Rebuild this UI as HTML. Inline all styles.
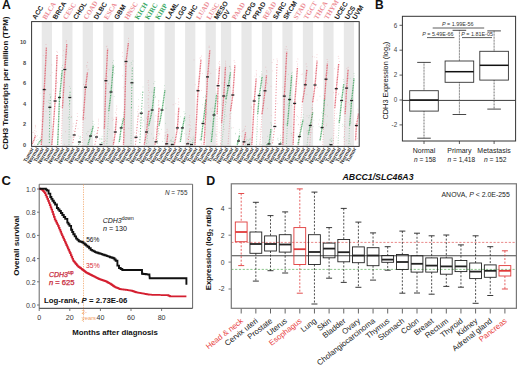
<!DOCTYPE html>
<html><head><meta charset="utf-8"><style>html,body{margin:0;padding:0;background:#fff;width:520px;height:366px;overflow:hidden}svg{display:block}</style></head>
<body><svg width="520" height="366" viewBox="0 0 520 366" font-family='"Liberation Sans", sans-serif'>
<g><rect x="31.6" y="21.6" width="327.59999999999997" height="124.80000000000001" fill="#fff"/><rect x="41.74" y="21.6" width="10.24" height="124.80000000000001" fill="#e8e8e8"/><rect x="62.22" y="21.6" width="10.24" height="124.80000000000001" fill="#e8e8e8"/><rect x="82.70" y="21.6" width="10.24" height="124.80000000000001" fill="#e8e8e8"/><rect x="103.18" y="21.6" width="10.24" height="124.80000000000001" fill="#e8e8e8"/><rect x="123.66" y="21.6" width="10.24" height="124.80000000000001" fill="#e8e8e8"/><rect x="144.14" y="21.6" width="10.24" height="124.80000000000001" fill="#e8e8e8"/><rect x="164.62" y="21.6" width="10.24" height="124.80000000000001" fill="#e8e8e8"/><rect x="185.10" y="21.6" width="10.24" height="124.80000000000001" fill="#e8e8e8"/><rect x="205.58" y="21.6" width="10.24" height="124.80000000000001" fill="#e8e8e8"/><rect x="220.94" y="21.6" width="10.24" height="124.80000000000001" fill="#e8e8e8"/><rect x="241.42" y="21.6" width="10.24" height="124.80000000000001" fill="#e8e8e8"/><rect x="261.90" y="21.6" width="10.24" height="124.80000000000001" fill="#e8e8e8"/><rect x="282.38" y="21.6" width="10.24" height="124.80000000000001" fill="#e8e8e8"/><rect x="302.86" y="21.6" width="10.24" height="124.80000000000001" fill="#e8e8e8"/><rect x="323.34" y="21.6" width="10.24" height="124.80000000000001" fill="#e8e8e8"/><rect x="343.82" y="21.6" width="10.24" height="124.80000000000001" fill="#e8e8e8"/><polyline points="32.00,144.00 32.14,143.78 32.29,143.53 32.43,143.27 32.57,142.99 32.71,142.71 32.86,142.42 33.00,142.13 33.14,141.84 33.29,141.54 33.43,141.24 33.57,140.93 33.71,140.62 33.86,140.31 34.00,140.00 34.11,139.73 34.21,139.41 34.32,139.08 34.43,138.74 34.54,138.39 34.64,138.03 34.75,137.67 34.86,137.30 34.96,136.92 35.07,136.55 35.18,136.17 35.29,135.78 35.39,135.39 35.50,135.00" fill="none" stroke="#de4b5b" stroke-width="1.35" stroke-opacity="0.8" stroke-dasharray="1.1,0.55" stroke-linejoin="round"/><circle cx="34.9" cy="133.1" r="0.45" fill="#de4b5b" fill-opacity="0.45"/><circle cx="34.8" cy="130.4" r="0.45" fill="#de4b5b" fill-opacity="0.45"/><circle cx="35.2" cy="127.9" r="0.45" fill="#de4b5b" fill-opacity="0.45"/><circle cx="35.4" cy="126.6" r="0.45" fill="#de4b5b" fill-opacity="0.45"/><circle cx="35.3" cy="125.3" r="0.45" fill="#de4b5b" fill-opacity="0.45"/><circle cx="33.3" cy="132.3" r="0.45" fill="#de4b5b" fill-opacity="0.35"/><circle cx="31.3" cy="142.6" r="0.45" fill="#de4b5b" fill-opacity="0.35"/><circle cx="34.6" cy="134.1" r="0.45" fill="#de4b5b" fill-opacity="0.35"/><circle cx="34.3" cy="144.3" r="0.45" fill="#de4b5b" fill-opacity="0.35"/><circle cx="36.8" cy="136.6" r="0.45" fill="#de4b5b" fill-opacity="0.35"/><circle cx="36.1" cy="131.7" r="0.45" fill="#de4b5b" fill-opacity="0.35"/><circle cx="31.4" cy="135.1" r="0.45" fill="#de4b5b" fill-opacity="0.35"/><circle cx="32.5" cy="132.6" r="0.45" fill="#de4b5b" fill-opacity="0.35"/><polyline points="37.40,144.70 37.55,144.55 37.70,144.38 37.85,144.20 38.00,144.02 38.15,143.83 38.30,143.64 38.45,143.44 38.60,143.24 38.75,143.04 38.90,142.84 39.05,142.63 39.20,142.42 39.35,142.21 39.50,142.00 39.64,141.84 39.79,141.65 39.93,141.45 40.07,141.24 40.21,141.03 40.36,140.82 40.50,140.60 40.64,140.38 40.79,140.15 40.93,139.93 41.07,139.70 41.21,139.47 41.36,139.23 41.50,139.00" fill="none" stroke="#2f9b50" stroke-width="1.35" stroke-opacity="0.8" stroke-dasharray="1.1,0.55" stroke-linejoin="round"/><circle cx="40.9" cy="135.9" r="0.45" fill="#2f9b50" fill-opacity="0.45"/><circle cx="41.5" cy="133.4" r="0.45" fill="#2f9b50" fill-opacity="0.45"/><circle cx="36.3" cy="140.5" r="0.45" fill="#2f9b50" fill-opacity="0.35"/><circle cx="37.4" cy="135.6" r="0.45" fill="#2f9b50" fill-opacity="0.35"/><circle cx="38.9" cy="141.8" r="0.45" fill="#2f9b50" fill-opacity="0.35"/><circle cx="40.1" cy="138.1" r="0.45" fill="#2f9b50" fill-opacity="0.35"/><circle cx="38.0" cy="139.5" r="0.45" fill="#2f9b50" fill-opacity="0.35"/><circle cx="40.9" cy="142.9" r="0.45" fill="#2f9b50" fill-opacity="0.35"/><circle cx="40.0" cy="137.4" r="0.45" fill="#2f9b50" fill-opacity="0.35"/><circle cx="42.1" cy="140.3" r="0.45" fill="#2f9b50" fill-opacity="0.35"/><polyline points="41.30,145.00 41.51,141.96 41.71,138.49 41.92,134.82 42.13,131.04 42.34,127.15 42.54,123.19 42.75,119.15 42.96,115.07 43.16,110.93 43.37,106.74 43.58,102.51 43.79,98.24 43.99,93.94 44.20,89.60 44.36,87.28 44.51,84.64 44.67,81.85 44.83,78.96 44.99,76.00 45.14,72.98 45.30,69.91 45.46,66.80 45.61,63.64 45.77,60.45 45.93,57.23 46.09,53.98 46.24,50.70 46.40,47.40" fill="none" stroke="#de4b5b" stroke-width="1.35" stroke-opacity="0.8" stroke-dasharray="1.1,0.55" stroke-linejoin="round"/><circle cx="46.0" cy="44.5" r="0.45" fill="#de4b5b" fill-opacity="0.45"/><circle cx="43.2" cy="55.4" r="0.45" fill="#de4b5b" fill-opacity="0.35"/><circle cx="41.0" cy="120.3" r="0.45" fill="#de4b5b" fill-opacity="0.35"/><circle cx="40.1" cy="93.1" r="0.45" fill="#de4b5b" fill-opacity="0.35"/><circle cx="46.0" cy="111.3" r="0.45" fill="#de4b5b" fill-opacity="0.35"/><circle cx="46.9" cy="101.6" r="0.45" fill="#de4b5b" fill-opacity="0.35"/><circle cx="45.4" cy="75.3" r="0.45" fill="#de4b5b" fill-opacity="0.35"/><circle cx="44.5" cy="103.8" r="0.45" fill="#de4b5b" fill-opacity="0.35"/><circle cx="46.6" cy="89.8" r="0.45" fill="#de4b5b" fill-opacity="0.35"/><polyline points="49.30,143.00 49.34,141.04 49.37,138.80 49.41,136.44 49.44,134.00 49.48,131.50 49.51,128.94 49.55,126.35 49.59,123.71 49.62,121.04 49.66,118.34 49.69,115.62 49.73,112.87 49.76,110.09 49.80,107.30 49.84,106.76 49.89,106.15 49.93,105.50 49.97,104.83 50.01,104.14 50.06,103.44 50.10,102.73 50.14,102.00 50.19,101.27 50.23,100.53 50.27,99.78 50.31,99.03 50.36,98.27 50.40,97.50" fill="none" stroke="#2f9b50" stroke-width="1" stroke-opacity="0.75" stroke-dasharray="1,1.8"/><circle cx="50.2" cy="94.1" r="0.45" fill="#2f9b50" fill-opacity="0.45"/><circle cx="50.7" cy="96.6" r="0.45" fill="#2f9b50" fill-opacity="0.35"/><circle cx="51.9" cy="126.8" r="0.45" fill="#2f9b50" fill-opacity="0.35"/><circle cx="49.0" cy="135.8" r="0.45" fill="#2f9b50" fill-opacity="0.35"/><circle cx="50.5" cy="113.4" r="0.45" fill="#2f9b50" fill-opacity="0.35"/><circle cx="49.7" cy="94.7" r="0.45" fill="#2f9b50" fill-opacity="0.35"/><circle cx="48.3" cy="102.2" r="0.45" fill="#2f9b50" fill-opacity="0.35"/><circle cx="50.9" cy="96.5" r="0.45" fill="#2f9b50" fill-opacity="0.35"/><circle cx="48.8" cy="100.2" r="0.45" fill="#2f9b50" fill-opacity="0.35"/><polyline points="51.80,145.00 52.04,142.59 52.27,139.83 52.51,136.92 52.74,133.91 52.98,130.82 53.21,127.67 53.45,124.47 53.69,121.23 53.92,117.94 54.16,114.61 54.39,111.25 54.63,107.86 54.86,104.44 55.10,101.00 55.24,98.46 55.39,95.56 55.53,92.50 55.67,89.33 55.81,86.08 55.96,82.77 56.10,79.40 56.24,75.98 56.39,72.52 56.53,69.02 56.67,65.49 56.81,61.92 56.96,58.32 57.10,54.70" fill="none" stroke="#de4b5b" stroke-width="1.35" stroke-opacity="0.8" stroke-dasharray="1.1,0.55" stroke-linejoin="round"/><circle cx="57.4" cy="52.6" r="0.45" fill="#de4b5b" fill-opacity="0.45"/><circle cx="56.9" cy="51.2" r="0.45" fill="#de4b5b" fill-opacity="0.45"/><circle cx="57.1" cy="134.0" r="0.45" fill="#de4b5b" fill-opacity="0.35"/><circle cx="52.6" cy="132.2" r="0.45" fill="#de4b5b" fill-opacity="0.35"/><circle cx="53.3" cy="89.9" r="0.45" fill="#de4b5b" fill-opacity="0.35"/><circle cx="58.2" cy="134.1" r="0.45" fill="#de4b5b" fill-opacity="0.35"/><circle cx="51.8" cy="64.9" r="0.45" fill="#de4b5b" fill-opacity="0.35"/><circle cx="52.2" cy="72.6" r="0.45" fill="#de4b5b" fill-opacity="0.35"/><circle cx="55.2" cy="96.4" r="0.45" fill="#de4b5b" fill-opacity="0.35"/><circle cx="50.3" cy="75.5" r="0.45" fill="#de4b5b" fill-opacity="0.35"/><polyline points="57.60,145.00 57.74,142.39 57.87,139.41 58.01,136.27 58.14,133.03 58.28,129.70 58.41,126.30 58.55,122.84 58.69,119.33 58.82,115.78 58.96,112.19 59.09,108.57 59.23,104.91 59.36,101.22 59.50,97.50 59.69,95.99 59.89,94.27 60.08,92.45 60.27,90.57 60.46,88.64 60.66,86.67 60.85,84.67 61.04,82.64 61.24,80.59 61.43,78.51 61.62,76.41 61.81,74.29 62.01,72.15 62.20,70.00" fill="none" stroke="#2f9b50" stroke-width="1.35" stroke-opacity="0.8" stroke-dasharray="1.1,0.55" stroke-linejoin="round"/><circle cx="61.9" cy="67.8" r="0.45" fill="#2f9b50" fill-opacity="0.45"/><circle cx="62.6" cy="65.3" r="0.45" fill="#2f9b50" fill-opacity="0.45"/><circle cx="60.8" cy="106.7" r="0.45" fill="#2f9b50" fill-opacity="0.35"/><circle cx="56.5" cy="119.4" r="0.45" fill="#2f9b50" fill-opacity="0.35"/><circle cx="62.0" cy="137.1" r="0.45" fill="#2f9b50" fill-opacity="0.35"/><circle cx="62.2" cy="135.1" r="0.45" fill="#2f9b50" fill-opacity="0.35"/><circle cx="59.1" cy="97.0" r="0.45" fill="#2f9b50" fill-opacity="0.35"/><circle cx="60.9" cy="74.2" r="0.45" fill="#2f9b50" fill-opacity="0.35"/><circle cx="56.6" cy="70.9" r="0.45" fill="#2f9b50" fill-opacity="0.35"/><circle cx="57.3" cy="82.5" r="0.45" fill="#2f9b50" fill-opacity="0.35"/><polyline points="62.40,107.80 62.57,105.70 62.74,103.30 62.91,100.76 63.09,98.15 63.26,95.46 63.43,92.72 63.60,89.93 63.77,87.11 63.94,84.24 64.11,81.35 64.29,78.42 64.46,75.47 64.63,72.50 64.80,69.50 64.94,68.10 65.09,66.50 65.23,64.82 65.37,63.07 65.51,61.28 65.66,59.46 65.80,57.60 65.94,55.72 66.09,53.82 66.23,51.89 66.37,49.94 66.51,47.98 66.66,46.00 66.80,44.00" fill="none" stroke="#de4b5b" stroke-width="1.35" stroke-opacity="0.8" stroke-dasharray="1.1,0.55" stroke-linejoin="round"/><line x1="62.40" y1="107.80" x2="61.22" y2="145.5" stroke="#de4b5b" stroke-width="0.9" stroke-opacity="0.45" stroke-dasharray="0.9,1.6"/><circle cx="66.1" cy="42.0" r="0.45" fill="#de4b5b" fill-opacity="0.45"/><circle cx="66.2" cy="40.8" r="0.45" fill="#de4b5b" fill-opacity="0.45"/><circle cx="61.1" cy="78.2" r="0.45" fill="#de4b5b" fill-opacity="0.35"/><circle cx="65.4" cy="131.8" r="0.45" fill="#de4b5b" fill-opacity="0.35"/><circle cx="62.8" cy="55.6" r="0.45" fill="#de4b5b" fill-opacity="0.35"/><circle cx="63.6" cy="76.5" r="0.45" fill="#de4b5b" fill-opacity="0.35"/><circle cx="67.2" cy="52.9" r="0.45" fill="#de4b5b" fill-opacity="0.35"/><circle cx="64.3" cy="144.3" r="0.45" fill="#de4b5b" fill-opacity="0.35"/><circle cx="61.5" cy="90.8" r="0.45" fill="#de4b5b" fill-opacity="0.35"/><circle cx="63.4" cy="50.7" r="0.45" fill="#de4b5b" fill-opacity="0.35"/><polyline points="69.60,104.00 69.61,103.64 69.63,103.24 69.64,102.81 69.66,102.36 69.67,101.91 69.69,101.44 69.70,100.97 69.71,100.49 69.73,100.00 69.74,99.51 69.76,99.01 69.77,98.51 69.79,98.01 69.80,97.50 69.82,97.09 69.84,96.62 69.86,96.12 69.89,95.61 69.91,95.08 69.93,94.55 69.95,94.00 69.97,93.45 69.99,92.89 70.01,92.32 70.04,91.75 70.06,91.17 70.08,90.59 70.10,90.00" fill="none" stroke="#2f9b50" stroke-width="1" stroke-opacity="0.75" stroke-dasharray="1,1.8"/><line x1="69.60" y1="104.00" x2="68.96" y2="145.5" stroke="#2f9b50" stroke-width="0.9" stroke-opacity="0.45" stroke-dasharray="0.9,1.6"/><circle cx="70.4" cy="88.2" r="0.45" fill="#2f9b50" fill-opacity="0.45"/><circle cx="69.3" cy="86.6" r="0.45" fill="#2f9b50" fill-opacity="0.45"/><circle cx="68.6" cy="117.2" r="0.45" fill="#2f9b50" fill-opacity="0.35"/><circle cx="68.2" cy="118.0" r="0.45" fill="#2f9b50" fill-opacity="0.35"/><circle cx="71.5" cy="117.2" r="0.45" fill="#2f9b50" fill-opacity="0.35"/><circle cx="70.5" cy="136.9" r="0.45" fill="#2f9b50" fill-opacity="0.35"/><circle cx="69.4" cy="101.4" r="0.45" fill="#2f9b50" fill-opacity="0.35"/><circle cx="70.8" cy="95.9" r="0.45" fill="#2f9b50" fill-opacity="0.35"/><circle cx="70.8" cy="117.4" r="0.45" fill="#2f9b50" fill-opacity="0.35"/><circle cx="68.9" cy="105.5" r="0.45" fill="#2f9b50" fill-opacity="0.35"/><polyline points="72.80,143.00 72.90,142.56 73.00,142.06 73.10,141.53 73.20,140.98 73.30,140.42 73.40,139.85 73.50,139.27 73.60,138.68 73.70,138.08 73.80,137.47 73.90,136.86 74.00,136.25 74.10,135.63 74.20,135.00 74.40,134.16 74.60,133.19 74.80,132.17 75.00,131.12 75.20,130.04 75.40,128.94 75.60,127.82 75.80,126.68 76.00,125.53 76.20,124.36 76.40,123.19 76.60,122.00 76.80,120.81 77.00,119.60" fill="none" stroke="#de4b5b" stroke-width="1" stroke-opacity="0.75" stroke-dasharray="1,1.8"/><circle cx="77.5" cy="116.5" r="0.45" fill="#de4b5b" fill-opacity="0.45"/><circle cx="77.2" cy="113.4" r="0.45" fill="#de4b5b" fill-opacity="0.45"/><circle cx="72.9" cy="137.4" r="0.45" fill="#de4b5b" fill-opacity="0.35"/><circle cx="73.9" cy="130.8" r="0.45" fill="#de4b5b" fill-opacity="0.35"/><circle cx="71.5" cy="116.5" r="0.45" fill="#de4b5b" fill-opacity="0.35"/><circle cx="73.2" cy="123.8" r="0.45" fill="#de4b5b" fill-opacity="0.35"/><circle cx="78.2" cy="136.0" r="0.45" fill="#de4b5b" fill-opacity="0.35"/><circle cx="78.0" cy="128.7" r="0.45" fill="#de4b5b" fill-opacity="0.35"/><circle cx="78.2" cy="144.6" r="0.45" fill="#de4b5b" fill-opacity="0.35"/><circle cx="72.9" cy="126.3" r="0.45" fill="#de4b5b" fill-opacity="0.35"/><polyline points="78.70,144.70 78.75,144.55 78.80,144.38 78.85,144.20 78.90,144.02 78.95,143.83 79.00,143.64 79.05,143.44 79.10,143.24 79.15,143.04 79.20,142.84 79.25,142.63 79.30,142.42 79.35,142.21 79.40,142.00 79.45,141.89 79.50,141.76 79.55,141.63 79.60,141.50 79.65,141.36 79.70,141.21 79.75,141.07 79.80,140.92 79.85,140.77 79.90,140.62 79.95,140.47 80.00,140.31 80.05,140.16 80.10,140.00" fill="none" stroke="#2f9b50" stroke-width="1" stroke-opacity="0.75" stroke-dasharray="1,1.8"/><circle cx="79.6" cy="138.3" r="0.45" fill="#2f9b50" fill-opacity="0.45"/><circle cx="80.1" cy="136.6" r="0.45" fill="#2f9b50" fill-opacity="0.45"/><circle cx="79.3" cy="143.6" r="0.45" fill="#2f9b50" fill-opacity="0.35"/><circle cx="80.7" cy="141.9" r="0.45" fill="#2f9b50" fill-opacity="0.35"/><circle cx="80.1" cy="136.8" r="0.45" fill="#2f9b50" fill-opacity="0.35"/><circle cx="80.6" cy="144.2" r="0.45" fill="#2f9b50" fill-opacity="0.35"/><circle cx="79.3" cy="142.8" r="0.45" fill="#2f9b50" fill-opacity="0.35"/><circle cx="80.7" cy="137.6" r="0.45" fill="#2f9b50" fill-opacity="0.35"/><circle cx="80.7" cy="139.0" r="0.45" fill="#2f9b50" fill-opacity="0.35"/><circle cx="78.9" cy="144.7" r="0.45" fill="#2f9b50" fill-opacity="0.35"/><polyline points="83.10,119.60 83.27,117.82 83.44,115.79 83.61,113.65 83.79,111.43 83.96,109.16 84.13,106.84 84.30,104.48 84.47,102.09 84.64,99.67 84.81,97.22 84.99,94.75 85.16,92.25 85.33,89.74 85.50,87.20 85.64,86.37 85.79,85.41 85.93,84.41 86.07,83.37 86.21,82.30 86.36,81.21 86.50,80.11 86.64,78.99 86.79,77.85 86.93,76.70 87.07,75.54 87.21,74.37 87.36,73.19 87.50,72.00" fill="none" stroke="#de4b5b" stroke-width="1.35" stroke-opacity="0.8" stroke-dasharray="1.1,0.55" stroke-linejoin="round"/><line x1="83.10" y1="119.60" x2="82.14" y2="145.5" stroke="#de4b5b" stroke-width="0.9" stroke-opacity="0.45" stroke-dasharray="0.9,1.6"/><circle cx="87.9" cy="69.9" r="0.45" fill="#de4b5b" fill-opacity="0.45"/><circle cx="86.9" cy="67.0" r="0.45" fill="#de4b5b" fill-opacity="0.45"/><circle cx="86.9" cy="65.5" r="0.45" fill="#de4b5b" fill-opacity="0.45"/><circle cx="87.7" cy="62.2" r="0.45" fill="#de4b5b" fill-opacity="0.45"/><circle cx="88.9" cy="131.6" r="0.45" fill="#de4b5b" fill-opacity="0.35"/><circle cx="84.2" cy="118.6" r="0.45" fill="#de4b5b" fill-opacity="0.35"/><circle cx="82.6" cy="110.2" r="0.45" fill="#de4b5b" fill-opacity="0.35"/><circle cx="88.8" cy="69.1" r="0.45" fill="#de4b5b" fill-opacity="0.35"/><circle cx="85.5" cy="118.0" r="0.45" fill="#de4b5b" fill-opacity="0.35"/><circle cx="84.8" cy="139.9" r="0.45" fill="#de4b5b" fill-opacity="0.35"/><circle cx="87.7" cy="135.1" r="0.45" fill="#de4b5b" fill-opacity="0.35"/><circle cx="83.5" cy="84.3" r="0.45" fill="#de4b5b" fill-opacity="0.35"/><polyline points="87.80,144.70 87.99,144.22 88.19,143.68 88.38,143.10 88.57,142.51 88.76,141.90 88.96,141.27 89.15,140.64 89.34,140.00 89.54,139.35 89.73,138.69 89.92,138.03 90.11,137.36 90.31,136.68 90.50,136.00 90.71,135.42 90.91,134.77 91.12,134.07 91.33,133.35 91.54,132.62 91.74,131.87 91.95,131.10 92.16,130.33 92.36,129.54 92.57,128.75 92.78,127.95 92.99,127.14 93.19,126.32 93.40,125.50" fill="none" stroke="#2f9b50" stroke-width="1.35" stroke-opacity="0.8" stroke-dasharray="1.1,0.55" stroke-linejoin="round"/><circle cx="92.9" cy="123.6" r="0.45" fill="#2f9b50" fill-opacity="0.45"/><circle cx="92.9" cy="121.1" r="0.45" fill="#2f9b50" fill-opacity="0.45"/><circle cx="94.1" cy="124.6" r="0.45" fill="#2f9b50" fill-opacity="0.35"/><circle cx="90.2" cy="129.8" r="0.45" fill="#2f9b50" fill-opacity="0.35"/><circle cx="94.1" cy="135.2" r="0.45" fill="#2f9b50" fill-opacity="0.35"/><circle cx="94.2" cy="131.4" r="0.45" fill="#2f9b50" fill-opacity="0.35"/><circle cx="90.9" cy="133.3" r="0.45" fill="#2f9b50" fill-opacity="0.35"/><circle cx="86.5" cy="133.8" r="0.45" fill="#2f9b50" fill-opacity="0.35"/><circle cx="87.9" cy="131.8" r="0.45" fill="#2f9b50" fill-opacity="0.35"/><circle cx="93.2" cy="121.6" r="0.45" fill="#2f9b50" fill-opacity="0.35"/><polyline points="94.90,144.70 95.01,144.28 95.13,143.79 95.24,143.29 95.36,142.76 95.47,142.22 95.59,141.67 95.70,141.11 95.81,140.54 95.93,139.96 96.04,139.38 96.16,138.79 96.27,138.20 96.39,137.60 96.50,137.00 96.64,136.37 96.79,135.65 96.93,134.89 97.07,134.10 97.21,133.29 97.36,132.47 97.50,131.64 97.64,130.79 97.79,129.93 97.93,129.06 98.07,128.18 98.21,127.29 98.36,126.40 98.50,125.50" fill="none" stroke="#de4b5b" stroke-width="1" stroke-opacity="0.75" stroke-dasharray="1,1.8"/><circle cx="98.3" cy="123.9" r="0.45" fill="#de4b5b" fill-opacity="0.45"/><circle cx="98.4" cy="121.0" r="0.45" fill="#de4b5b" fill-opacity="0.45"/><circle cx="98.4" cy="119.1" r="0.45" fill="#de4b5b" fill-opacity="0.45"/><circle cx="94.1" cy="139.9" r="0.45" fill="#de4b5b" fill-opacity="0.35"/><circle cx="95.0" cy="134.7" r="0.45" fill="#de4b5b" fill-opacity="0.35"/><circle cx="98.5" cy="128.0" r="0.45" fill="#de4b5b" fill-opacity="0.35"/><circle cx="97.1" cy="133.4" r="0.45" fill="#de4b5b" fill-opacity="0.35"/><circle cx="99.4" cy="139.4" r="0.45" fill="#de4b5b" fill-opacity="0.35"/><circle cx="97.4" cy="131.9" r="0.45" fill="#de4b5b" fill-opacity="0.35"/><circle cx="96.8" cy="133.4" r="0.45" fill="#de4b5b" fill-opacity="0.35"/><circle cx="96.4" cy="137.8" r="0.45" fill="#de4b5b" fill-opacity="0.35"/><polyline points="100.00,145.00 100.07,144.97 100.14,144.94 100.21,144.91 100.29,144.87 100.36,144.84 100.43,144.80 100.50,144.77 100.57,144.73 100.64,144.69 100.71,144.65 100.79,144.62 100.86,144.58 100.93,144.54 101.00,144.50 101.07,144.36 101.14,144.21 101.21,144.04 101.29,143.87 101.36,143.69 101.43,143.52 101.50,143.33 101.57,143.15 101.64,142.96 101.71,142.77 101.79,142.58 101.86,142.39 101.93,142.20 102.00,142.00" fill="none" stroke="#2f9b50" stroke-width="1" stroke-opacity="0.75" stroke-dasharray="1,1.8"/><circle cx="101.8" cy="139.6" r="0.45" fill="#2f9b50" fill-opacity="0.45"/><circle cx="102.1" cy="136.2" r="0.45" fill="#2f9b50" fill-opacity="0.45"/><circle cx="99.8" cy="144.6" r="0.45" fill="#2f9b50" fill-opacity="0.35"/><circle cx="103.2" cy="141.9" r="0.45" fill="#2f9b50" fill-opacity="0.35"/><circle cx="99.2" cy="143.9" r="0.45" fill="#2f9b50" fill-opacity="0.35"/><circle cx="100.7" cy="138.9" r="0.45" fill="#2f9b50" fill-opacity="0.35"/><circle cx="99.7" cy="138.5" r="0.45" fill="#2f9b50" fill-opacity="0.35"/><circle cx="101.8" cy="138.5" r="0.45" fill="#2f9b50" fill-opacity="0.35"/><circle cx="103.0" cy="143.5" r="0.45" fill="#2f9b50" fill-opacity="0.35"/><circle cx="102.1" cy="139.1" r="0.45" fill="#2f9b50" fill-opacity="0.35"/><polyline points="104.40,128.50 104.51,125.88 104.61,122.88 104.72,119.72 104.83,116.45 104.94,113.10 105.04,109.68 105.15,106.20 105.26,102.67 105.36,99.10 105.47,95.49 105.58,91.84 105.69,88.16 105.79,84.44 105.90,80.70 106.02,78.95 106.14,76.95 106.26,74.84 106.39,72.66 106.51,70.42 106.63,68.14 106.75,65.82 106.87,63.46 106.99,61.08 107.11,58.67 107.24,56.23 107.36,53.78 107.48,51.30 107.60,48.80" fill="none" stroke="#de4b5b" stroke-width="1.35" stroke-opacity="0.8" stroke-dasharray="1.1,0.55" stroke-linejoin="round"/><line x1="104.40" y1="128.50" x2="104.13" y2="145.5" stroke="#de4b5b" stroke-width="0.9" stroke-opacity="0.45" stroke-dasharray="0.9,1.6"/><circle cx="107.0" cy="46.1" r="0.45" fill="#de4b5b" fill-opacity="0.45"/><circle cx="104.3" cy="141.7" r="0.45" fill="#de4b5b" fill-opacity="0.35"/><circle cx="105.4" cy="140.2" r="0.45" fill="#de4b5b" fill-opacity="0.35"/><circle cx="109.0" cy="93.6" r="0.45" fill="#de4b5b" fill-opacity="0.35"/><circle cx="103.9" cy="128.2" r="0.45" fill="#de4b5b" fill-opacity="0.35"/><circle cx="106.1" cy="88.0" r="0.45" fill="#de4b5b" fill-opacity="0.35"/><circle cx="104.1" cy="78.8" r="0.45" fill="#de4b5b" fill-opacity="0.35"/><circle cx="107.4" cy="76.7" r="0.45" fill="#de4b5b" fill-opacity="0.35"/><circle cx="106.3" cy="46.8" r="0.45" fill="#de4b5b" fill-opacity="0.35"/><polyline points="108.80,110.80 108.96,109.77 109.11,108.59 109.27,107.35 109.43,106.06 109.59,104.74 109.74,103.40 109.90,102.03 110.06,100.64 110.21,99.24 110.37,97.82 110.53,96.38 110.69,94.93 110.84,93.47 111.00,92.00 111.16,90.52 111.33,88.82 111.49,87.04 111.66,85.19 111.82,83.30 111.99,81.37 112.15,79.40 112.31,77.41 112.48,75.39 112.64,73.35 112.81,71.29 112.97,69.21 113.14,67.11 113.30,65.00" fill="none" stroke="#2f9b50" stroke-width="1.35" stroke-opacity="0.8" stroke-dasharray="1.1,0.55" stroke-linejoin="round"/><line x1="108.80" y1="110.80" x2="106.77" y2="145.5" stroke="#2f9b50" stroke-width="0.9" stroke-opacity="0.45" stroke-dasharray="0.9,1.6"/><circle cx="112.5" cy="62.8" r="0.45" fill="#2f9b50" fill-opacity="0.45"/><circle cx="113.3" cy="60.8" r="0.45" fill="#2f9b50" fill-opacity="0.45"/><circle cx="114.7" cy="66.4" r="0.45" fill="#2f9b50" fill-opacity="0.35"/><circle cx="114.6" cy="127.2" r="0.45" fill="#2f9b50" fill-opacity="0.35"/><circle cx="109.3" cy="69.8" r="0.45" fill="#2f9b50" fill-opacity="0.35"/><circle cx="113.1" cy="64.3" r="0.45" fill="#2f9b50" fill-opacity="0.35"/><circle cx="108.3" cy="83.7" r="0.45" fill="#2f9b50" fill-opacity="0.35"/><circle cx="114.1" cy="96.5" r="0.45" fill="#2f9b50" fill-opacity="0.35"/><circle cx="109.2" cy="129.8" r="0.45" fill="#2f9b50" fill-opacity="0.35"/><circle cx="114.2" cy="73.5" r="0.45" fill="#2f9b50" fill-opacity="0.35"/><polyline points="113.30,144.70 113.44,144.00 113.59,143.21 113.73,142.37 113.87,141.50 114.01,140.61 114.16,139.70 114.30,138.78 114.44,137.84 114.59,136.89 114.73,135.93 114.87,134.96 115.01,133.98 115.16,132.99 115.30,132.00 115.39,131.16 115.47,130.20 115.56,129.19 115.64,128.14 115.73,127.07 115.81,125.98 115.90,124.86 115.99,123.73 116.07,122.59 116.16,121.43 116.24,120.27 116.33,119.09 116.41,117.90 116.50,116.70" fill="none" stroke="#de4b5b" stroke-width="1.35" stroke-opacity="0.8" stroke-dasharray="1.1,0.55" stroke-linejoin="round"/><circle cx="116.6" cy="114.2" r="0.45" fill="#de4b5b" fill-opacity="0.45"/><circle cx="115.8" cy="112.8" r="0.45" fill="#de4b5b" fill-opacity="0.45"/><circle cx="116.3" cy="110.0" r="0.45" fill="#de4b5b" fill-opacity="0.45"/><circle cx="116.9" cy="108.6" r="0.45" fill="#de4b5b" fill-opacity="0.45"/><circle cx="116.7" cy="106.0" r="0.45" fill="#de4b5b" fill-opacity="0.45"/><circle cx="112.2" cy="140.4" r="0.45" fill="#de4b5b" fill-opacity="0.35"/><circle cx="114.6" cy="140.6" r="0.45" fill="#de4b5b" fill-opacity="0.35"/><circle cx="115.2" cy="123.7" r="0.45" fill="#de4b5b" fill-opacity="0.35"/><circle cx="113.5" cy="142.6" r="0.45" fill="#de4b5b" fill-opacity="0.35"/><circle cx="115.1" cy="116.9" r="0.45" fill="#de4b5b" fill-opacity="0.35"/><circle cx="112.5" cy="120.4" r="0.45" fill="#de4b5b" fill-opacity="0.35"/><circle cx="112.1" cy="117.9" r="0.45" fill="#de4b5b" fill-opacity="0.35"/><circle cx="113.7" cy="119.2" r="0.45" fill="#de4b5b" fill-opacity="0.35"/><polyline points="119.20,141.80 119.34,141.04 119.49,140.17 119.63,139.25 119.77,138.30 119.91,137.32 120.06,136.33 120.20,135.32 120.34,134.29 120.49,133.25 120.63,132.20 120.77,131.14 120.91,130.07 121.06,128.99 121.20,127.90 121.37,127.37 121.54,126.76 121.71,126.12 121.89,125.45 122.06,124.77 122.23,124.08 122.40,123.37 122.57,122.66 122.74,121.93 122.91,121.20 123.09,120.46 123.26,119.71 123.43,118.96 123.60,118.20" fill="none" stroke="#2f9b50" stroke-width="1.35" stroke-opacity="0.8" stroke-dasharray="1.1,0.55" stroke-linejoin="round"/><circle cx="123.8" cy="116.3" r="0.45" fill="#2f9b50" fill-opacity="0.45"/><circle cx="123.5" cy="114.4" r="0.45" fill="#2f9b50" fill-opacity="0.45"/><circle cx="123.3" cy="112.8" r="0.45" fill="#2f9b50" fill-opacity="0.45"/><circle cx="117.8" cy="121.9" r="0.45" fill="#2f9b50" fill-opacity="0.35"/><circle cx="121.8" cy="136.8" r="0.45" fill="#2f9b50" fill-opacity="0.35"/><circle cx="121.2" cy="120.0" r="0.45" fill="#2f9b50" fill-opacity="0.35"/><circle cx="118.5" cy="143.0" r="0.45" fill="#2f9b50" fill-opacity="0.35"/><circle cx="120.9" cy="139.4" r="0.45" fill="#2f9b50" fill-opacity="0.35"/><circle cx="123.9" cy="129.4" r="0.45" fill="#2f9b50" fill-opacity="0.35"/><circle cx="121.4" cy="126.3" r="0.45" fill="#2f9b50" fill-opacity="0.35"/><circle cx="125.0" cy="135.4" r="0.45" fill="#2f9b50" fill-opacity="0.35"/><polyline points="123.50,144.70 123.68,140.14 123.86,134.92 124.04,129.42 124.21,123.73 124.39,117.89 124.57,111.94 124.75,105.89 124.93,99.74 125.11,93.53 125.29,87.24 125.46,80.89 125.64,74.48 125.82,68.01 126.00,61.50 126.17,60.49 126.34,59.32 126.51,58.10 126.69,56.84 126.86,55.54 127.03,54.22 127.20,52.87 127.37,51.50 127.54,50.12 127.71,48.72 127.89,47.31 128.06,45.89 128.23,44.45 128.40,43.00" fill="none" stroke="#de4b5b" stroke-width="1.35" stroke-opacity="0.8" stroke-dasharray="1.1,0.55" stroke-linejoin="round"/><circle cx="128.7" cy="41.0" r="0.45" fill="#de4b5b" fill-opacity="0.45"/><circle cx="128.4" cy="38.2" r="0.45" fill="#de4b5b" fill-opacity="0.45"/><circle cx="122.4" cy="75.8" r="0.45" fill="#de4b5b" fill-opacity="0.35"/><circle cx="122.6" cy="52.8" r="0.45" fill="#de4b5b" fill-opacity="0.35"/><circle cx="124.0" cy="117.5" r="0.45" fill="#de4b5b" fill-opacity="0.35"/><circle cx="122.7" cy="56.3" r="0.45" fill="#de4b5b" fill-opacity="0.35"/><circle cx="128.9" cy="128.2" r="0.45" fill="#de4b5b" fill-opacity="0.35"/><circle cx="124.2" cy="110.1" r="0.45" fill="#de4b5b" fill-opacity="0.35"/><circle cx="124.3" cy="64.7" r="0.45" fill="#de4b5b" fill-opacity="0.35"/><circle cx="123.2" cy="87.7" r="0.45" fill="#de4b5b" fill-opacity="0.35"/><polyline points="131.40,107.80 131.44,106.43 131.47,104.86 131.51,103.21 131.54,101.50 131.58,99.74 131.61,97.96 131.65,96.14 131.69,94.29 131.72,92.42 131.76,90.53 131.79,88.63 131.83,86.70 131.86,84.76 131.90,82.80 131.94,81.91 131.97,80.88 132.01,79.81 132.04,78.69 132.08,77.55 132.11,76.38 132.15,75.20 132.19,73.99 132.22,72.77 132.26,71.54 132.29,70.30 132.33,69.04 132.36,67.78 132.40,66.50" fill="none" stroke="#2f9b50" stroke-width="1" stroke-opacity="0.75" stroke-dasharray="1,1.8"/><line x1="131.40" y1="107.80" x2="131.02" y2="145.5" stroke="#2f9b50" stroke-width="0.9" stroke-opacity="0.45" stroke-dasharray="0.9,1.6"/><circle cx="131.9" cy="64.3" r="0.45" fill="#2f9b50" fill-opacity="0.45"/><circle cx="132.9" cy="60.9" r="0.45" fill="#2f9b50" fill-opacity="0.45"/><circle cx="133.8" cy="82.7" r="0.45" fill="#2f9b50" fill-opacity="0.35"/><circle cx="131.3" cy="88.0" r="0.45" fill="#2f9b50" fill-opacity="0.35"/><circle cx="131.4" cy="62.6" r="0.45" fill="#2f9b50" fill-opacity="0.35"/><circle cx="131.9" cy="101.7" r="0.45" fill="#2f9b50" fill-opacity="0.35"/><circle cx="131.9" cy="79.1" r="0.45" fill="#2f9b50" fill-opacity="0.35"/><circle cx="131.0" cy="62.9" r="0.45" fill="#2f9b50" fill-opacity="0.35"/><circle cx="131.5" cy="69.9" r="0.45" fill="#2f9b50" fill-opacity="0.35"/><circle cx="130.0" cy="65.9" r="0.45" fill="#2f9b50" fill-opacity="0.35"/><polyline points="135.40,144.70 135.44,144.29 135.49,143.83 135.53,143.34 135.57,142.83 135.61,142.32 135.66,141.79 135.70,141.25 135.74,140.70 135.79,140.15 135.83,139.59 135.87,139.02 135.91,138.45 135.96,137.88 136.00,137.30 136.16,136.01 136.33,134.52 136.49,132.96 136.66,131.35 136.82,129.70 136.99,128.01 137.15,126.29 137.31,124.55 137.48,122.78 137.64,121.00 137.81,119.20 137.97,117.38 138.14,115.55 138.30,113.70" fill="none" stroke="#de4b5b" stroke-width="1" stroke-opacity="0.75" stroke-dasharray="1,1.8"/><circle cx="137.8" cy="111.8" r="0.45" fill="#de4b5b" fill-opacity="0.45"/><circle cx="138.2" cy="109.3" r="0.45" fill="#de4b5b" fill-opacity="0.45"/><circle cx="138.4" cy="106.3" r="0.45" fill="#de4b5b" fill-opacity="0.45"/><circle cx="136.2" cy="140.7" r="0.45" fill="#de4b5b" fill-opacity="0.35"/><circle cx="139.7" cy="121.2" r="0.45" fill="#de4b5b" fill-opacity="0.35"/><circle cx="138.2" cy="115.0" r="0.45" fill="#de4b5b" fill-opacity="0.35"/><circle cx="134.2" cy="132.4" r="0.45" fill="#de4b5b" fill-opacity="0.35"/><circle cx="139.2" cy="139.2" r="0.45" fill="#de4b5b" fill-opacity="0.35"/><circle cx="138.2" cy="131.8" r="0.45" fill="#de4b5b" fill-opacity="0.35"/><circle cx="134.7" cy="138.4" r="0.45" fill="#de4b5b" fill-opacity="0.35"/><circle cx="136.9" cy="128.2" r="0.45" fill="#de4b5b" fill-opacity="0.35"/><polyline points="139.80,143.00 139.91,141.37 140.01,139.50 140.12,137.53 140.23,135.49 140.34,133.40 140.44,131.27 140.55,129.10 140.66,126.90 140.76,124.67 140.87,122.42 140.98,120.14 141.09,117.85 141.19,115.53 141.30,113.20 141.41,111.93 141.51,110.47 141.62,108.94 141.73,107.35 141.84,105.72 141.94,104.06 142.05,102.38 142.16,100.66 142.26,98.93 142.37,97.18 142.48,95.41 142.59,93.62 142.69,91.82 142.80,90.00" fill="none" stroke="#2f9b50" stroke-width="1" stroke-opacity="0.75" stroke-dasharray="1,1.8"/><circle cx="143.0" cy="86.9" r="0.45" fill="#2f9b50" fill-opacity="0.45"/><circle cx="143.7" cy="120.5" r="0.45" fill="#2f9b50" fill-opacity="0.35"/><circle cx="142.5" cy="126.3" r="0.45" fill="#2f9b50" fill-opacity="0.35"/><circle cx="138.5" cy="99.6" r="0.45" fill="#2f9b50" fill-opacity="0.35"/><circle cx="140.5" cy="93.9" r="0.45" fill="#2f9b50" fill-opacity="0.35"/><circle cx="143.3" cy="92.2" r="0.45" fill="#2f9b50" fill-opacity="0.35"/><circle cx="142.1" cy="119.0" r="0.45" fill="#2f9b50" fill-opacity="0.35"/><circle cx="142.4" cy="122.9" r="0.45" fill="#2f9b50" fill-opacity="0.35"/><circle cx="138.3" cy="114.9" r="0.45" fill="#2f9b50" fill-opacity="0.35"/><polyline points="144.20,144.70 144.36,144.00 144.53,143.21 144.69,142.37 144.86,141.50 145.02,140.61 145.19,139.70 145.35,138.78 145.51,137.84 145.68,136.89 145.84,135.93 146.01,134.96 146.17,133.98 146.34,132.99 146.50,132.00 146.66,130.84 146.81,129.51 146.97,128.11 147.13,126.66 147.29,125.17 147.44,123.65 147.60,122.11 147.76,120.55 147.91,118.96 148.07,117.36 148.23,115.74 148.39,114.11 148.54,112.46 148.70,110.80" fill="none" stroke="#de4b5b" stroke-width="1.35" stroke-opacity="0.8" stroke-dasharray="1.1,0.55" stroke-linejoin="round"/><circle cx="148.9" cy="107.8" r="0.45" fill="#de4b5b" fill-opacity="0.45"/><circle cx="148.6" cy="105.4" r="0.45" fill="#de4b5b" fill-opacity="0.45"/><circle cx="148.0" cy="102.7" r="0.45" fill="#de4b5b" fill-opacity="0.45"/><circle cx="148.2" cy="99.8" r="0.45" fill="#de4b5b" fill-opacity="0.45"/><circle cx="148.2" cy="98.4" r="0.45" fill="#de4b5b" fill-opacity="0.45"/><circle cx="148.2" cy="95.5" r="0.45" fill="#de4b5b" fill-opacity="0.45"/><circle cx="149.2" cy="92.6" r="0.45" fill="#de4b5b" fill-opacity="0.45"/><circle cx="148.4" cy="90.3" r="0.45" fill="#de4b5b" fill-opacity="0.45"/><circle cx="148.8" cy="88.0" r="0.45" fill="#de4b5b" fill-opacity="0.45"/><circle cx="148.7" cy="85.0" r="0.45" fill="#de4b5b" fill-opacity="0.45"/><circle cx="148.0" cy="82.4" r="0.45" fill="#de4b5b" fill-opacity="0.45"/><circle cx="148.2" cy="80.8" r="0.45" fill="#de4b5b" fill-opacity="0.45"/><circle cx="147.0" cy="118.4" r="0.45" fill="#de4b5b" fill-opacity="0.35"/><circle cx="143.2" cy="107.3" r="0.45" fill="#de4b5b" fill-opacity="0.35"/><circle cx="147.7" cy="117.1" r="0.45" fill="#de4b5b" fill-opacity="0.35"/><circle cx="147.8" cy="133.2" r="0.45" fill="#de4b5b" fill-opacity="0.35"/><circle cx="146.6" cy="117.9" r="0.45" fill="#de4b5b" fill-opacity="0.35"/><circle cx="146.2" cy="124.6" r="0.45" fill="#de4b5b" fill-opacity="0.35"/><circle cx="149.4" cy="111.3" r="0.45" fill="#de4b5b" fill-opacity="0.35"/><circle cx="150.0" cy="114.4" r="0.45" fill="#de4b5b" fill-opacity="0.35"/><polyline points="148.70,125.50 148.95,124.65 149.20,123.68 149.45,122.65 149.70,121.59 149.95,120.51 150.20,119.40 150.45,118.27 150.70,117.12 150.95,115.97 151.20,114.79 151.45,113.61 151.70,112.42 151.95,111.21 152.20,110.00 152.37,108.75 152.54,107.32 152.71,105.81 152.89,104.25 153.06,102.65 153.23,101.02 153.40,99.36 153.57,97.68 153.74,95.98 153.91,94.25 154.09,92.51 154.26,90.76 154.43,88.98 154.60,87.20" fill="none" stroke="#2f9b50" stroke-width="1.35" stroke-opacity="0.8" stroke-dasharray="1.1,0.55" stroke-linejoin="round"/><line x1="148.70" y1="125.50" x2="146.44" y2="145.5" stroke="#2f9b50" stroke-width="0.9" stroke-opacity="0.45" stroke-dasharray="0.9,1.6"/><circle cx="153.8" cy="83.8" r="0.45" fill="#2f9b50" fill-opacity="0.45"/><circle cx="154.9" cy="81.6" r="0.45" fill="#2f9b50" fill-opacity="0.45"/><circle cx="149.6" cy="111.0" r="0.45" fill="#2f9b50" fill-opacity="0.35"/><circle cx="155.6" cy="96.2" r="0.45" fill="#2f9b50" fill-opacity="0.35"/><circle cx="152.4" cy="96.2" r="0.45" fill="#2f9b50" fill-opacity="0.35"/><circle cx="151.9" cy="92.0" r="0.45" fill="#2f9b50" fill-opacity="0.35"/><circle cx="148.4" cy="142.1" r="0.45" fill="#2f9b50" fill-opacity="0.35"/><circle cx="151.7" cy="133.9" r="0.45" fill="#2f9b50" fill-opacity="0.35"/><circle cx="153.5" cy="138.0" r="0.45" fill="#2f9b50" fill-opacity="0.35"/><circle cx="155.2" cy="97.5" r="0.45" fill="#2f9b50" fill-opacity="0.35"/><polyline points="154.60,144.70 154.70,144.54 154.80,144.36 154.90,144.17 155.00,143.97 155.10,143.77 155.20,143.56 155.30,143.35 155.40,143.13 155.50,142.92 155.60,142.70 155.70,142.48 155.80,142.25 155.90,142.03 156.00,141.80 156.21,139.93 156.43,137.80 156.64,135.55 156.86,133.23 157.07,130.85 157.29,128.41 157.50,125.94 157.71,123.43 157.93,120.89 158.14,118.32 158.36,115.72 158.57,113.10 158.79,110.46 159.00,107.80" fill="none" stroke="#de4b5b" stroke-width="1.35" stroke-opacity="0.8" stroke-dasharray="1.1,0.55" stroke-linejoin="round"/><circle cx="158.2" cy="105.5" r="0.45" fill="#de4b5b" fill-opacity="0.45"/><circle cx="158.8" cy="104.3" r="0.45" fill="#de4b5b" fill-opacity="0.45"/><circle cx="158.6" cy="102.0" r="0.45" fill="#de4b5b" fill-opacity="0.45"/><circle cx="158.6" cy="100.5" r="0.45" fill="#de4b5b" fill-opacity="0.45"/><circle cx="153.1" cy="138.4" r="0.45" fill="#de4b5b" fill-opacity="0.35"/><circle cx="159.3" cy="134.7" r="0.45" fill="#de4b5b" fill-opacity="0.35"/><circle cx="160.0" cy="108.7" r="0.45" fill="#de4b5b" fill-opacity="0.35"/><circle cx="159.8" cy="133.2" r="0.45" fill="#de4b5b" fill-opacity="0.35"/><circle cx="155.9" cy="115.7" r="0.45" fill="#de4b5b" fill-opacity="0.35"/><circle cx="160.5" cy="120.0" r="0.45" fill="#de4b5b" fill-opacity="0.35"/><circle cx="155.8" cy="128.1" r="0.45" fill="#de4b5b" fill-opacity="0.35"/><circle cx="155.1" cy="121.4" r="0.45" fill="#de4b5b" fill-opacity="0.35"/><polyline points="159.00,125.50 159.21,124.65 159.43,123.68 159.64,122.65 159.86,121.59 160.07,120.51 160.29,119.40 160.50,118.27 160.71,117.12 160.93,115.97 161.14,114.79 161.36,113.61 161.57,112.42 161.79,111.21 162.00,110.00 162.21,108.91 162.41,107.67 162.62,106.36 162.83,105.01 163.04,103.62 163.24,102.20 163.45,100.76 163.66,99.30 163.86,97.82 164.07,96.33 164.28,94.81 164.49,93.29 164.69,91.75 164.90,90.20" fill="none" stroke="#2f9b50" stroke-width="1.35" stroke-opacity="0.8" stroke-dasharray="1.1,0.55" stroke-linejoin="round"/><line x1="159.00" y1="125.50" x2="157.06" y2="145.5" stroke="#2f9b50" stroke-width="0.9" stroke-opacity="0.45" stroke-dasharray="0.9,1.6"/><circle cx="164.2" cy="88.9" r="0.45" fill="#2f9b50" fill-opacity="0.45"/><circle cx="164.5" cy="85.8" r="0.45" fill="#2f9b50" fill-opacity="0.45"/><circle cx="159.9" cy="100.9" r="0.45" fill="#2f9b50" fill-opacity="0.35"/><circle cx="159.2" cy="116.2" r="0.45" fill="#2f9b50" fill-opacity="0.35"/><circle cx="166.0" cy="108.2" r="0.45" fill="#2f9b50" fill-opacity="0.35"/><circle cx="164.7" cy="138.2" r="0.45" fill="#2f9b50" fill-opacity="0.35"/><circle cx="165.6" cy="123.3" r="0.45" fill="#2f9b50" fill-opacity="0.35"/><circle cx="162.4" cy="141.5" r="0.45" fill="#2f9b50" fill-opacity="0.35"/><circle cx="157.9" cy="128.5" r="0.45" fill="#2f9b50" fill-opacity="0.35"/><circle cx="161.5" cy="129.3" r="0.45" fill="#2f9b50" fill-opacity="0.35"/><polyline points="165.50,144.70 165.59,144.65 165.67,144.59 165.76,144.53 165.84,144.47 165.93,144.41 166.01,144.35 166.10,144.28 166.19,144.21 166.27,144.15 166.36,144.08 166.44,144.01 166.53,143.94 166.61,143.87 166.70,143.80 166.78,143.26 166.86,142.65 166.94,142.00 167.01,141.33 167.09,140.64 167.17,139.94 167.25,139.23 167.33,138.50 167.41,137.77 167.49,137.03 167.56,136.28 167.64,135.53 167.72,134.77 167.80,134.00" fill="none" stroke="#de4b5b" stroke-width="1.35" stroke-opacity="0.8" stroke-dasharray="1.1,0.55" stroke-linejoin="round"/><circle cx="167.8" cy="131.1" r="0.45" fill="#de4b5b" fill-opacity="0.45"/><circle cx="167.1" cy="129.2" r="0.45" fill="#de4b5b" fill-opacity="0.45"/><circle cx="166.5" cy="131.9" r="0.45" fill="#de4b5b" fill-opacity="0.35"/><circle cx="165.6" cy="135.2" r="0.45" fill="#de4b5b" fill-opacity="0.35"/><circle cx="169.2" cy="141.1" r="0.45" fill="#de4b5b" fill-opacity="0.35"/><circle cx="167.5" cy="133.9" r="0.45" fill="#de4b5b" fill-opacity="0.35"/><circle cx="167.0" cy="134.5" r="0.45" fill="#de4b5b" fill-opacity="0.35"/><circle cx="164.9" cy="135.9" r="0.45" fill="#de4b5b" fill-opacity="0.35"/><circle cx="165.1" cy="132.4" r="0.45" fill="#de4b5b" fill-opacity="0.35"/><circle cx="166.6" cy="143.6" r="0.45" fill="#de4b5b" fill-opacity="0.35"/><polyline points="171.50,145.00 171.56,144.97 171.61,144.94 171.67,144.91 171.73,144.87 171.79,144.84 171.84,144.80 171.90,144.77 171.96,144.73 172.01,144.69 172.07,144.65 172.13,144.62 172.19,144.58 172.24,144.54 172.30,144.50 172.35,144.42 172.40,144.32 172.45,144.22 172.50,144.12 172.55,144.02 172.60,143.91 172.65,143.80 172.70,143.69 172.75,143.58 172.80,143.46 172.85,143.35 172.90,143.23 172.95,143.12 173.00,143.00" fill="none" stroke="#2f9b50" stroke-width="1" stroke-opacity="0.75" stroke-dasharray="1,1.8"/><circle cx="173.4" cy="141.3" r="0.45" fill="#2f9b50" fill-opacity="0.45"/><circle cx="172.8" cy="137.8" r="0.45" fill="#2f9b50" fill-opacity="0.45"/><circle cx="170.4" cy="140.2" r="0.45" fill="#2f9b50" fill-opacity="0.35"/><circle cx="170.4" cy="141.1" r="0.45" fill="#2f9b50" fill-opacity="0.35"/><circle cx="171.2" cy="140.4" r="0.45" fill="#2f9b50" fill-opacity="0.35"/><circle cx="174.0" cy="142.4" r="0.45" fill="#2f9b50" fill-opacity="0.35"/><circle cx="171.9" cy="143.5" r="0.45" fill="#2f9b50" fill-opacity="0.35"/><circle cx="172.4" cy="141.5" r="0.45" fill="#2f9b50" fill-opacity="0.35"/><circle cx="171.5" cy="141.3" r="0.45" fill="#2f9b50" fill-opacity="0.35"/><circle cx="171.2" cy="139.4" r="0.45" fill="#2f9b50" fill-opacity="0.35"/><polyline points="174.40,144.70 174.61,143.78 174.83,142.72 175.04,141.61 175.26,140.47 175.47,139.29 175.69,138.08 175.90,136.86 176.11,135.62 176.33,134.37 176.54,133.10 176.76,131.81 176.97,130.52 177.19,129.22 177.40,127.90 177.50,126.80 177.60,125.54 177.70,124.21 177.80,122.83 177.90,121.42 178.00,119.99 178.10,118.52 178.20,117.04 178.30,115.54 178.40,114.02 178.50,112.48 178.60,110.93 178.70,109.37 178.80,107.80" fill="none" stroke="#de4b5b" stroke-width="1.35" stroke-opacity="0.8" stroke-dasharray="1.1,0.55" stroke-linejoin="round"/><circle cx="178.2" cy="104.4" r="0.45" fill="#de4b5b" fill-opacity="0.45"/><circle cx="178.8" cy="102.0" r="0.45" fill="#de4b5b" fill-opacity="0.45"/><circle cx="178.3" cy="98.8" r="0.45" fill="#de4b5b" fill-opacity="0.45"/><circle cx="175.9" cy="114.0" r="0.45" fill="#de4b5b" fill-opacity="0.35"/><circle cx="180.0" cy="122.2" r="0.45" fill="#de4b5b" fill-opacity="0.35"/><circle cx="179.4" cy="138.8" r="0.45" fill="#de4b5b" fill-opacity="0.35"/><circle cx="173.1" cy="104.7" r="0.45" fill="#de4b5b" fill-opacity="0.35"/><circle cx="179.5" cy="133.0" r="0.45" fill="#de4b5b" fill-opacity="0.35"/><circle cx="177.2" cy="123.3" r="0.45" fill="#de4b5b" fill-opacity="0.35"/><circle cx="175.8" cy="103.8" r="0.45" fill="#de4b5b" fill-opacity="0.35"/><circle cx="179.0" cy="142.0" r="0.45" fill="#de4b5b" fill-opacity="0.35"/><polyline points="180.30,141.80 180.45,141.04 180.60,140.17 180.75,139.25 180.90,138.30 181.05,137.32 181.20,136.33 181.35,135.32 181.50,134.29 181.65,133.25 181.80,132.20 181.95,131.14 182.10,130.07 182.25,128.99 182.40,127.90 182.56,127.29 182.73,126.58 182.89,125.84 183.06,125.08 183.22,124.29 183.39,123.49 183.55,122.68 183.71,121.85 183.88,121.01 184.04,120.16 184.21,119.31 184.37,118.45 184.54,117.58 184.70,116.70" fill="none" stroke="#2f9b50" stroke-width="1.35" stroke-opacity="0.8" stroke-dasharray="1.1,0.55" stroke-linejoin="round"/><circle cx="185.2" cy="113.5" r="0.45" fill="#2f9b50" fill-opacity="0.45"/><circle cx="184.0" cy="111.8" r="0.45" fill="#2f9b50" fill-opacity="0.45"/><circle cx="183.8" cy="129.6" r="0.45" fill="#2f9b50" fill-opacity="0.35"/><circle cx="184.1" cy="143.1" r="0.45" fill="#2f9b50" fill-opacity="0.35"/><circle cx="184.5" cy="133.6" r="0.45" fill="#2f9b50" fill-opacity="0.35"/><circle cx="182.9" cy="127.5" r="0.45" fill="#2f9b50" fill-opacity="0.35"/><circle cx="184.6" cy="114.0" r="0.45" fill="#2f9b50" fill-opacity="0.35"/><circle cx="185.6" cy="120.2" r="0.45" fill="#2f9b50" fill-opacity="0.35"/><circle cx="181.0" cy="133.5" r="0.45" fill="#2f9b50" fill-opacity="0.35"/><circle cx="180.7" cy="116.8" r="0.45" fill="#2f9b50" fill-opacity="0.35"/><polyline points="186.20,144.70 186.31,144.65 186.41,144.59 186.52,144.53 186.63,144.47 186.74,144.41 186.84,144.35 186.95,144.28 187.06,144.21 187.16,144.15 187.27,144.08 187.38,144.01 187.49,143.94 187.59,143.87 187.70,143.80 187.86,142.96 188.03,142.00 188.19,140.99 188.36,139.94 188.52,138.87 188.69,137.78 188.85,136.66 189.01,135.53 189.18,134.39 189.34,133.23 189.51,132.07 189.67,130.89 189.84,129.70 190.00,128.50" fill="none" stroke="#de4b5b" stroke-width="1" stroke-opacity="0.75" stroke-dasharray="1,1.8"/><circle cx="190.1" cy="125.8" r="0.45" fill="#de4b5b" fill-opacity="0.45"/><circle cx="189.3" cy="124.4" r="0.45" fill="#de4b5b" fill-opacity="0.45"/><circle cx="190.0" cy="122.0" r="0.45" fill="#de4b5b" fill-opacity="0.45"/><circle cx="189.5" cy="119.9" r="0.45" fill="#de4b5b" fill-opacity="0.45"/><circle cx="189.2" cy="117.3" r="0.45" fill="#de4b5b" fill-opacity="0.45"/><circle cx="189.8" cy="115.4" r="0.45" fill="#de4b5b" fill-opacity="0.45"/><circle cx="190.7" cy="137.7" r="0.45" fill="#de4b5b" fill-opacity="0.35"/><circle cx="186.3" cy="134.2" r="0.45" fill="#de4b5b" fill-opacity="0.35"/><circle cx="191.2" cy="129.6" r="0.45" fill="#de4b5b" fill-opacity="0.35"/><circle cx="186.8" cy="138.9" r="0.45" fill="#de4b5b" fill-opacity="0.35"/><circle cx="188.1" cy="124.9" r="0.45" fill="#de4b5b" fill-opacity="0.35"/><circle cx="187.6" cy="138.3" r="0.45" fill="#de4b5b" fill-opacity="0.35"/><circle cx="189.2" cy="129.8" r="0.45" fill="#de4b5b" fill-opacity="0.35"/><circle cx="186.2" cy="143.5" r="0.45" fill="#de4b5b" fill-opacity="0.35"/><polyline points="190.50,145.00 190.57,144.97 190.64,144.94 190.71,144.91 190.79,144.87 190.86,144.84 190.93,144.80 191.00,144.77 191.07,144.73 191.14,144.69 191.21,144.65 191.29,144.62 191.36,144.58 191.43,144.54 191.50,144.50 191.61,144.36 191.71,144.21 191.82,144.04 191.93,143.87 192.04,143.69 192.14,143.52 192.25,143.33 192.36,143.15 192.46,142.96 192.57,142.77 192.68,142.58 192.79,142.39 192.89,142.20 193.00,142.00" fill="none" stroke="#2f9b50" stroke-width="1" stroke-opacity="0.75" stroke-dasharray="1,1.8"/><circle cx="192.6" cy="140.7" r="0.45" fill="#2f9b50" fill-opacity="0.45"/><circle cx="193.1" cy="138.6" r="0.45" fill="#2f9b50" fill-opacity="0.45"/><circle cx="193.2" cy="136.9" r="0.45" fill="#2f9b50" fill-opacity="0.45"/><circle cx="190.1" cy="141.5" r="0.45" fill="#2f9b50" fill-opacity="0.35"/><circle cx="190.7" cy="144.8" r="0.45" fill="#2f9b50" fill-opacity="0.35"/><circle cx="190.3" cy="143.7" r="0.45" fill="#2f9b50" fill-opacity="0.35"/><circle cx="193.2" cy="139.6" r="0.45" fill="#2f9b50" fill-opacity="0.35"/><circle cx="194.2" cy="140.1" r="0.45" fill="#2f9b50" fill-opacity="0.35"/><circle cx="190.0" cy="141.5" r="0.45" fill="#2f9b50" fill-opacity="0.35"/><circle cx="191.3" cy="139.6" r="0.45" fill="#2f9b50" fill-opacity="0.35"/><circle cx="194.2" cy="142.7" r="0.45" fill="#2f9b50" fill-opacity="0.35"/><polyline points="195.00,144.70 195.21,141.74 195.43,138.35 195.64,134.78 195.86,131.09 196.07,127.30 196.29,123.44 196.50,119.51 196.71,115.52 196.93,111.49 197.14,107.40 197.36,103.28 197.57,99.12 197.79,94.93 198.00,90.70 198.21,88.97 198.43,87.00 198.64,84.91 198.86,82.76 199.07,80.55 199.29,78.30 199.50,76.00 199.71,73.68 199.93,71.33 200.14,68.94 200.36,66.54 200.57,64.11 200.79,61.67 201.00,59.20" fill="none" stroke="#de4b5b" stroke-width="1.35" stroke-opacity="0.8" stroke-dasharray="1.1,0.55" stroke-linejoin="round"/><circle cx="200.7" cy="57.7" r="0.45" fill="#de4b5b" fill-opacity="0.45"/><circle cx="201.5" cy="56.0" r="0.45" fill="#de4b5b" fill-opacity="0.45"/><circle cx="194.0" cy="59.9" r="0.45" fill="#de4b5b" fill-opacity="0.35"/><circle cx="201.6" cy="90.5" r="0.45" fill="#de4b5b" fill-opacity="0.35"/><circle cx="200.1" cy="134.5" r="0.45" fill="#de4b5b" fill-opacity="0.35"/><circle cx="201.9" cy="144.8" r="0.45" fill="#de4b5b" fill-opacity="0.35"/><circle cx="195.2" cy="84.8" r="0.45" fill="#de4b5b" fill-opacity="0.35"/><circle cx="200.2" cy="139.2" r="0.45" fill="#de4b5b" fill-opacity="0.35"/><circle cx="199.5" cy="58.1" r="0.45" fill="#de4b5b" fill-opacity="0.35"/><circle cx="196.9" cy="89.2" r="0.45" fill="#de4b5b" fill-opacity="0.35"/><polyline points="201.00,140.30 201.14,139.38 201.29,138.32 201.43,137.21 201.57,136.07 201.71,134.89 201.86,133.68 202.00,132.46 202.14,131.22 202.29,129.97 202.43,128.70 202.57,127.41 202.71,126.12 202.86,124.82 203.00,123.50 203.21,122.16 203.43,120.62 203.64,119.00 203.86,117.32 204.07,115.61 204.29,113.85 204.50,112.07 204.71,110.26 204.93,108.43 205.14,106.58 205.36,104.71 205.57,102.82 205.79,100.92 206.00,99.00" fill="none" stroke="#2f9b50" stroke-width="1.35" stroke-opacity="0.8" stroke-dasharray="1.1,0.55" stroke-linejoin="round"/><circle cx="205.4" cy="97.0" r="0.45" fill="#2f9b50" fill-opacity="0.45"/><circle cx="205.6" cy="95.8" r="0.45" fill="#2f9b50" fill-opacity="0.45"/><circle cx="206.4" cy="93.8" r="0.45" fill="#2f9b50" fill-opacity="0.45"/><circle cx="201.2" cy="143.2" r="0.45" fill="#2f9b50" fill-opacity="0.35"/><circle cx="206.1" cy="112.8" r="0.45" fill="#2f9b50" fill-opacity="0.35"/><circle cx="203.0" cy="136.1" r="0.45" fill="#2f9b50" fill-opacity="0.35"/><circle cx="203.3" cy="97.5" r="0.45" fill="#2f9b50" fill-opacity="0.35"/><circle cx="206.9" cy="113.6" r="0.45" fill="#2f9b50" fill-opacity="0.35"/><circle cx="202.4" cy="104.7" r="0.45" fill="#2f9b50" fill-opacity="0.35"/><circle cx="199.7" cy="139.8" r="0.45" fill="#2f9b50" fill-opacity="0.35"/><circle cx="206.0" cy="115.5" r="0.45" fill="#2f9b50" fill-opacity="0.35"/><polyline points="204.00,144.70 204.25,140.98 204.50,136.73 204.75,132.25 205.00,127.61 205.25,122.85 205.50,118.00 205.75,113.07 206.00,108.07 206.25,103.00 206.50,97.87 206.75,92.70 207.00,87.47 207.25,82.21 207.50,76.90 207.66,75.44 207.83,73.77 207.99,72.01 208.16,70.19 208.32,68.33 208.49,66.43 208.65,64.49 208.81,62.53 208.98,60.54 209.14,58.53 209.31,56.50 209.47,54.45 209.64,52.38 209.80,50.30" fill="none" stroke="#de4b5b" stroke-width="1.35" stroke-opacity="0.8" stroke-dasharray="1.1,0.55" stroke-linejoin="round"/><circle cx="209.1" cy="47.3" r="0.45" fill="#de4b5b" fill-opacity="0.45"/><circle cx="209.1" cy="46.1" r="0.45" fill="#de4b5b" fill-opacity="0.45"/><circle cx="209.1" cy="71.7" r="0.45" fill="#de4b5b" fill-opacity="0.35"/><circle cx="205.5" cy="135.0" r="0.45" fill="#de4b5b" fill-opacity="0.35"/><circle cx="210.9" cy="73.2" r="0.45" fill="#de4b5b" fill-opacity="0.35"/><circle cx="204.8" cy="107.2" r="0.45" fill="#de4b5b" fill-opacity="0.35"/><circle cx="205.3" cy="117.0" r="0.45" fill="#de4b5b" fill-opacity="0.35"/><circle cx="202.5" cy="73.5" r="0.45" fill="#de4b5b" fill-opacity="0.35"/><circle cx="210.6" cy="120.9" r="0.45" fill="#de4b5b" fill-opacity="0.35"/><circle cx="210.8" cy="108.9" r="0.45" fill="#de4b5b" fill-opacity="0.35"/><polyline points="211.30,141.80 211.49,140.33 211.69,138.65 211.88,136.88 212.07,135.04 212.26,133.17 212.46,131.25 212.65,129.30 212.84,127.32 213.04,125.32 213.23,123.29 213.42,121.24 213.61,119.18 213.81,117.10 214.00,115.00 214.19,113.88 214.37,112.60 214.56,111.25 214.74,109.86 214.93,108.43 215.11,106.97 215.30,105.48 215.49,103.98 215.67,102.45 215.86,100.91 216.04,99.35 216.23,97.78 216.41,96.20 216.60,94.60" fill="none" stroke="#2f9b50" stroke-width="1.35" stroke-opacity="0.8" stroke-dasharray="1.1,0.55" stroke-linejoin="round"/><circle cx="216.1" cy="93.3" r="0.45" fill="#2f9b50" fill-opacity="0.45"/><circle cx="217.0" cy="91.1" r="0.45" fill="#2f9b50" fill-opacity="0.45"/><circle cx="211.9" cy="111.6" r="0.45" fill="#2f9b50" fill-opacity="0.35"/><circle cx="213.9" cy="114.0" r="0.45" fill="#2f9b50" fill-opacity="0.35"/><circle cx="211.3" cy="141.1" r="0.45" fill="#2f9b50" fill-opacity="0.35"/><circle cx="215.9" cy="134.3" r="0.45" fill="#2f9b50" fill-opacity="0.35"/><circle cx="216.2" cy="135.4" r="0.45" fill="#2f9b50" fill-opacity="0.35"/><circle cx="212.5" cy="123.6" r="0.45" fill="#2f9b50" fill-opacity="0.35"/><circle cx="212.8" cy="108.0" r="0.45" fill="#2f9b50" fill-opacity="0.35"/><circle cx="210.5" cy="133.2" r="0.45" fill="#2f9b50" fill-opacity="0.35"/><polyline points="217.20,113.70 217.26,112.16 217.33,110.41 217.39,108.56 217.46,106.64 217.52,104.68 217.59,102.67 217.65,100.64 217.71,98.57 217.78,96.48 217.84,94.36 217.91,92.22 217.97,90.07 218.04,87.89 218.10,85.70 218.21,84.65 218.31,83.44 218.42,82.17 218.53,80.86 218.64,79.51 218.74,78.14 218.85,76.74 218.96,75.33 219.06,73.89 219.17,72.44 219.28,70.97 219.39,69.49 219.49,68.00 219.60,66.50" fill="none" stroke="#de4b5b" stroke-width="1.35" stroke-opacity="0.8" stroke-dasharray="1.1,0.55" stroke-linejoin="round"/><line x1="217.20" y1="113.70" x2="216.69" y2="145.5" stroke="#de4b5b" stroke-width="0.9" stroke-opacity="0.45" stroke-dasharray="0.9,1.6"/><circle cx="219.8" cy="64.8" r="0.45" fill="#de4b5b" fill-opacity="0.45"/><circle cx="218.9" cy="63.1" r="0.45" fill="#de4b5b" fill-opacity="0.45"/><circle cx="219.5" cy="61.8" r="0.45" fill="#de4b5b" fill-opacity="0.45"/><circle cx="220.5" cy="143.4" r="0.45" fill="#de4b5b" fill-opacity="0.35"/><circle cx="217.1" cy="144.0" r="0.45" fill="#de4b5b" fill-opacity="0.35"/><circle cx="216.2" cy="69.4" r="0.45" fill="#de4b5b" fill-opacity="0.35"/><circle cx="219.5" cy="103.6" r="0.45" fill="#de4b5b" fill-opacity="0.35"/><circle cx="217.0" cy="99.4" r="0.45" fill="#de4b5b" fill-opacity="0.35"/><circle cx="219.0" cy="96.9" r="0.45" fill="#de4b5b" fill-opacity="0.35"/><circle cx="219.7" cy="118.1" r="0.45" fill="#de4b5b" fill-opacity="0.35"/><circle cx="219.3" cy="132.4" r="0.45" fill="#de4b5b" fill-opacity="0.35"/><polyline points="221.60,122.60 221.75,121.14 221.90,119.47 222.05,117.71 222.20,115.89 222.35,114.03 222.50,112.13 222.65,110.19 222.80,108.23 222.95,106.24 223.10,104.23 223.25,102.20 223.40,100.15 223.55,98.08 223.70,96.00 223.83,94.38 223.96,92.53 224.09,90.58 224.21,88.56 224.34,86.50 224.47,84.38 224.60,82.24 224.73,80.06 224.86,77.86 224.99,75.63 225.11,73.37 225.24,71.10 225.37,68.81 225.50,66.50" fill="none" stroke="#de4b5b" stroke-width="1.35" stroke-opacity="0.8" stroke-dasharray="1.1,0.55" stroke-linejoin="round"/><line x1="221.60" y1="122.60" x2="220.70" y2="145.5" stroke="#de4b5b" stroke-width="0.9" stroke-opacity="0.45" stroke-dasharray="0.9,1.6"/><circle cx="225.8" cy="65.0" r="0.45" fill="#de4b5b" fill-opacity="0.45"/><circle cx="225.4" cy="63.1" r="0.45" fill="#de4b5b" fill-opacity="0.45"/><circle cx="225.7" cy="61.1" r="0.45" fill="#de4b5b" fill-opacity="0.45"/><circle cx="221.8" cy="82.9" r="0.45" fill="#de4b5b" fill-opacity="0.35"/><circle cx="226.2" cy="75.1" r="0.45" fill="#de4b5b" fill-opacity="0.35"/><circle cx="222.4" cy="110.2" r="0.45" fill="#de4b5b" fill-opacity="0.35"/><circle cx="226.9" cy="95.2" r="0.45" fill="#de4b5b" fill-opacity="0.35"/><circle cx="221.7" cy="104.4" r="0.45" fill="#de4b5b" fill-opacity="0.35"/><circle cx="224.6" cy="129.2" r="0.45" fill="#de4b5b" fill-opacity="0.35"/><circle cx="220.8" cy="144.3" r="0.45" fill="#de4b5b" fill-opacity="0.35"/><circle cx="225.8" cy="101.7" r="0.45" fill="#de4b5b" fill-opacity="0.35"/><polyline points="226.00,99.00 226.17,98.27 226.34,97.44 226.51,96.56 226.69,95.65 226.86,94.71 227.03,93.76 227.20,92.80 227.37,91.81 227.54,90.82 227.71,89.81 227.89,88.80 228.06,87.77 228.23,86.74 228.40,85.70 228.55,84.97 228.70,84.14 228.85,83.26 229.00,82.35 229.15,81.41 229.30,80.46 229.45,79.50 229.60,78.51 229.75,77.52 229.90,76.51 230.05,75.50 230.20,74.47 230.35,73.44 230.50,72.40" fill="none" stroke="#2f9b50" stroke-width="1.35" stroke-opacity="0.8" stroke-dasharray="1.1,0.55" stroke-linejoin="round"/><line x1="226.00" y1="99.00" x2="221.80" y2="145.5" stroke="#2f9b50" stroke-width="0.9" stroke-opacity="0.45" stroke-dasharray="0.9,1.6"/><circle cx="230.9" cy="69.3" r="0.45" fill="#2f9b50" fill-opacity="0.45"/><circle cx="230.1" cy="68.0" r="0.45" fill="#2f9b50" fill-opacity="0.45"/><circle cx="229.9" cy="66.5" r="0.45" fill="#2f9b50" fill-opacity="0.45"/><circle cx="231.5" cy="113.1" r="0.45" fill="#2f9b50" fill-opacity="0.35"/><circle cx="231.0" cy="96.9" r="0.45" fill="#2f9b50" fill-opacity="0.35"/><circle cx="226.4" cy="102.8" r="0.45" fill="#2f9b50" fill-opacity="0.35"/><circle cx="231.6" cy="128.0" r="0.45" fill="#2f9b50" fill-opacity="0.35"/><circle cx="229.0" cy="76.5" r="0.45" fill="#2f9b50" fill-opacity="0.35"/><circle cx="226.1" cy="115.9" r="0.45" fill="#2f9b50" fill-opacity="0.35"/><circle cx="225.6" cy="96.6" r="0.45" fill="#2f9b50" fill-opacity="0.35"/><circle cx="226.4" cy="84.0" r="0.45" fill="#2f9b50" fill-opacity="0.35"/><polyline points="230.50,110.80 230.66,109.93 230.83,108.94 230.99,107.90 231.16,106.82 231.32,105.71 231.49,104.58 231.65,103.43 231.81,102.26 231.98,101.08 232.14,99.89 232.31,98.68 232.47,97.46 232.64,96.24 232.80,95.00 232.95,93.35 233.10,91.47 233.25,89.49 233.40,87.44 233.55,85.33 233.70,83.19 233.85,81.00 234.00,78.79 234.15,76.55 234.30,74.28 234.45,71.99 234.60,69.68 234.75,67.35 234.90,65.00" fill="none" stroke="#de4b5b" stroke-width="1.35" stroke-opacity="0.8" stroke-dasharray="1.1,0.55" stroke-linejoin="round"/><line x1="230.50" y1="110.80" x2="227.97" y2="145.5" stroke="#de4b5b" stroke-width="0.9" stroke-opacity="0.45" stroke-dasharray="0.9,1.6"/><circle cx="234.9" cy="62.4" r="0.45" fill="#de4b5b" fill-opacity="0.45"/><circle cx="234.1" cy="60.8" r="0.45" fill="#de4b5b" fill-opacity="0.45"/><circle cx="230.4" cy="118.0" r="0.45" fill="#de4b5b" fill-opacity="0.35"/><circle cx="230.5" cy="87.2" r="0.45" fill="#de4b5b" fill-opacity="0.35"/><circle cx="233.1" cy="127.8" r="0.45" fill="#de4b5b" fill-opacity="0.35"/><circle cx="229.8" cy="66.3" r="0.45" fill="#de4b5b" fill-opacity="0.35"/><circle cx="233.1" cy="94.2" r="0.45" fill="#de4b5b" fill-opacity="0.35"/><circle cx="229.7" cy="114.7" r="0.45" fill="#de4b5b" fill-opacity="0.35"/><circle cx="234.1" cy="74.7" r="0.45" fill="#de4b5b" fill-opacity="0.35"/><circle cx="231.1" cy="95.4" r="0.45" fill="#de4b5b" fill-opacity="0.35"/><polyline points="237.00,144.70 237.11,144.50 237.21,144.26 237.32,144.02 237.43,143.77 237.54,143.51 237.64,143.24 237.75,142.97 237.86,142.70 237.96,142.42 238.07,142.14 238.18,141.86 238.29,141.58 238.39,141.29 238.50,141.00 238.57,140.67 238.64,140.29 238.71,139.90 238.79,139.49 238.86,139.07 238.93,138.64 239.00,138.20 239.07,137.76 239.14,137.31 239.21,136.86 239.29,136.40 239.36,135.94 239.43,135.47 239.50,135.00" fill="none" stroke="#2f9b50" stroke-width="1.35" stroke-opacity="0.8" stroke-dasharray="1.1,0.55" stroke-linejoin="round"/><circle cx="239.9" cy="133.1" r="0.45" fill="#2f9b50" fill-opacity="0.45"/><circle cx="239.4" cy="131.2" r="0.45" fill="#2f9b50" fill-opacity="0.45"/><circle cx="239.2" cy="129.2" r="0.45" fill="#2f9b50" fill-opacity="0.45"/><circle cx="237.5" cy="145.0" r="0.45" fill="#2f9b50" fill-opacity="0.35"/><circle cx="239.5" cy="133.8" r="0.45" fill="#2f9b50" fill-opacity="0.35"/><circle cx="235.5" cy="133.9" r="0.45" fill="#2f9b50" fill-opacity="0.35"/><circle cx="237.8" cy="143.6" r="0.45" fill="#2f9b50" fill-opacity="0.35"/><circle cx="237.7" cy="142.5" r="0.45" fill="#2f9b50" fill-opacity="0.35"/><circle cx="238.0" cy="143.4" r="0.45" fill="#2f9b50" fill-opacity="0.35"/><circle cx="235.6" cy="133.3" r="0.45" fill="#2f9b50" fill-opacity="0.35"/><circle cx="239.0" cy="138.7" r="0.45" fill="#2f9b50" fill-opacity="0.35"/><polyline points="243.00,144.70 243.07,144.54 243.14,144.36 243.21,144.17 243.29,143.97 243.36,143.77 243.43,143.56 243.50,143.35 243.57,143.13 243.64,142.92 243.71,142.70 243.79,142.48 243.86,142.25 243.93,142.03 244.00,141.80 244.11,141.27 244.23,140.67 244.34,140.04 244.46,139.38 244.57,138.71 244.69,138.02 244.80,137.32 244.91,136.61 245.03,135.90 245.14,135.17 245.26,134.44 245.37,133.70 245.49,132.95 245.60,132.20" fill="none" stroke="#de4b5b" stroke-width="1.35" stroke-opacity="0.8" stroke-dasharray="1.1,0.55" stroke-linejoin="round"/><circle cx="244.9" cy="128.9" r="0.45" fill="#de4b5b" fill-opacity="0.45"/><circle cx="245.3" cy="126.3" r="0.45" fill="#de4b5b" fill-opacity="0.45"/><circle cx="243.1" cy="130.7" r="0.45" fill="#de4b5b" fill-opacity="0.35"/><circle cx="246.7" cy="137.0" r="0.45" fill="#de4b5b" fill-opacity="0.35"/><circle cx="244.2" cy="130.0" r="0.45" fill="#de4b5b" fill-opacity="0.35"/><circle cx="246.9" cy="141.7" r="0.45" fill="#de4b5b" fill-opacity="0.35"/><circle cx="242.2" cy="131.5" r="0.45" fill="#de4b5b" fill-opacity="0.35"/><circle cx="247.0" cy="144.0" r="0.45" fill="#de4b5b" fill-opacity="0.35"/><circle cx="241.8" cy="136.3" r="0.45" fill="#de4b5b" fill-opacity="0.35"/><circle cx="243.7" cy="143.8" r="0.45" fill="#de4b5b" fill-opacity="0.35"/><polyline points="247.00,145.00 247.11,144.97 247.21,144.94 247.32,144.91 247.43,144.87 247.54,144.84 247.64,144.80 247.75,144.77 247.86,144.73 247.96,144.69 248.07,144.65 248.18,144.62 248.29,144.58 248.39,144.54 248.50,144.50 248.61,144.36 248.71,144.21 248.82,144.04 248.93,143.87 249.04,143.69 249.14,143.52 249.25,143.33 249.36,143.15 249.46,142.96 249.57,142.77 249.68,142.58 249.79,142.39 249.89,142.20 250.00,142.00" fill="none" stroke="#2f9b50" stroke-width="1" stroke-opacity="0.75" stroke-dasharray="1,1.8"/><circle cx="250.0" cy="138.7" r="0.45" fill="#2f9b50" fill-opacity="0.45"/><circle cx="250.2" cy="139.1" r="0.45" fill="#2f9b50" fill-opacity="0.35"/><circle cx="247.9" cy="139.6" r="0.45" fill="#2f9b50" fill-opacity="0.35"/><circle cx="250.5" cy="143.9" r="0.45" fill="#2f9b50" fill-opacity="0.35"/><circle cx="246.8" cy="139.3" r="0.45" fill="#2f9b50" fill-opacity="0.35"/><circle cx="248.6" cy="140.8" r="0.45" fill="#2f9b50" fill-opacity="0.35"/><circle cx="246.2" cy="140.7" r="0.45" fill="#2f9b50" fill-opacity="0.35"/><circle cx="249.8" cy="139.7" r="0.45" fill="#2f9b50" fill-opacity="0.35"/><circle cx="245.7" cy="144.3" r="0.45" fill="#2f9b50" fill-opacity="0.35"/><polyline points="251.80,144.70 251.97,142.30 252.14,139.56 252.31,136.67 252.49,133.68 252.66,130.62 252.83,127.49 253.00,124.31 253.17,121.09 253.34,117.82 253.51,114.52 253.69,111.18 253.86,107.82 254.03,104.42 254.20,101.00 254.34,99.76 254.49,98.34 254.63,96.85 254.77,95.30 254.91,93.72 255.06,92.10 255.20,90.46 255.34,88.79 255.49,87.10 255.63,85.39 255.77,83.67 255.91,81.92 256.06,80.17 256.20,78.40" fill="none" stroke="#de4b5b" stroke-width="1.35" stroke-opacity="0.8" stroke-dasharray="1.1,0.55" stroke-linejoin="round"/><circle cx="256.4" cy="75.9" r="0.45" fill="#de4b5b" fill-opacity="0.45"/><circle cx="256.5" cy="74.6" r="0.45" fill="#de4b5b" fill-opacity="0.45"/><circle cx="256.2" cy="73.1" r="0.45" fill="#de4b5b" fill-opacity="0.45"/><circle cx="256.2" cy="70.7" r="0.45" fill="#de4b5b" fill-opacity="0.45"/><circle cx="254.6" cy="104.1" r="0.45" fill="#de4b5b" fill-opacity="0.35"/><circle cx="255.2" cy="104.5" r="0.45" fill="#de4b5b" fill-opacity="0.35"/><circle cx="253.5" cy="105.9" r="0.45" fill="#de4b5b" fill-opacity="0.35"/><circle cx="254.9" cy="76.1" r="0.45" fill="#de4b5b" fill-opacity="0.35"/><circle cx="252.0" cy="109.0" r="0.45" fill="#de4b5b" fill-opacity="0.35"/><circle cx="256.1" cy="128.3" r="0.45" fill="#de4b5b" fill-opacity="0.35"/><circle cx="251.6" cy="106.8" r="0.45" fill="#de4b5b" fill-opacity="0.35"/><circle cx="251.1" cy="107.8" r="0.45" fill="#de4b5b" fill-opacity="0.35"/><polyline points="257.70,113.80 257.81,112.80 257.91,111.65 258.02,110.44 258.13,109.19 258.24,107.90 258.34,106.59 258.45,105.26 258.56,103.91 258.66,102.54 258.77,101.16 258.88,99.76 258.99,98.35 259.09,96.93 259.20,95.50 259.41,94.48 259.61,93.31 259.82,92.08 260.03,90.81 260.24,89.51 260.44,88.18 260.65,86.82 260.86,85.45 261.06,84.06 261.27,82.65 261.48,81.23 261.69,79.80 261.89,78.36 262.10,76.90" fill="none" stroke="#2f9b50" stroke-width="1.35" stroke-opacity="0.8" stroke-dasharray="1.1,0.55" stroke-linejoin="round"/><line x1="257.70" y1="113.80" x2="256.40" y2="145.5" stroke="#2f9b50" stroke-width="0.9" stroke-opacity="0.45" stroke-dasharray="0.9,1.6"/><circle cx="261.9" cy="75.4" r="0.45" fill="#2f9b50" fill-opacity="0.45"/><circle cx="261.9" cy="74.0" r="0.45" fill="#2f9b50" fill-opacity="0.45"/><circle cx="261.4" cy="71.6" r="0.45" fill="#2f9b50" fill-opacity="0.45"/><circle cx="261.6" cy="78.8" r="0.45" fill="#2f9b50" fill-opacity="0.35"/><circle cx="260.0" cy="129.0" r="0.45" fill="#2f9b50" fill-opacity="0.35"/><circle cx="259.9" cy="76.8" r="0.45" fill="#2f9b50" fill-opacity="0.35"/><circle cx="263.2" cy="100.1" r="0.45" fill="#2f9b50" fill-opacity="0.35"/><circle cx="262.5" cy="82.7" r="0.45" fill="#2f9b50" fill-opacity="0.35"/><circle cx="261.6" cy="144.7" r="0.45" fill="#2f9b50" fill-opacity="0.35"/><circle cx="257.6" cy="131.7" r="0.45" fill="#2f9b50" fill-opacity="0.35"/><circle cx="259.8" cy="143.7" r="0.45" fill="#2f9b50" fill-opacity="0.35"/><polyline points="262.00,114.00 262.21,112.73 262.43,111.27 262.64,109.74 262.86,108.15 263.07,106.52 263.29,104.86 263.50,103.18 263.71,101.46 263.93,99.73 264.14,97.98 264.36,96.21 264.57,94.42 264.79,92.62 265.00,90.80 265.11,89.96 265.21,88.99 265.32,87.97 265.43,86.92 265.54,85.84 265.64,84.74 265.75,83.62 265.86,82.48 265.96,81.33 266.07,80.16 266.18,78.99 266.29,77.80 266.39,76.61 266.50,75.40" fill="none" stroke="#de4b5b" stroke-width="1.35" stroke-opacity="0.8" stroke-dasharray="1.1,0.55" stroke-linejoin="round"/><line x1="262.00" y1="114.00" x2="259.96" y2="145.5" stroke="#de4b5b" stroke-width="0.9" stroke-opacity="0.45" stroke-dasharray="0.9,1.6"/><circle cx="266.9" cy="72.0" r="0.45" fill="#de4b5b" fill-opacity="0.45"/><circle cx="266.7" cy="70.4" r="0.45" fill="#de4b5b" fill-opacity="0.45"/><circle cx="265.8" cy="67.1" r="0.45" fill="#de4b5b" fill-opacity="0.45"/><circle cx="261.7" cy="127.1" r="0.45" fill="#de4b5b" fill-opacity="0.35"/><circle cx="262.6" cy="137.4" r="0.45" fill="#de4b5b" fill-opacity="0.35"/><circle cx="261.6" cy="131.4" r="0.45" fill="#de4b5b" fill-opacity="0.35"/><circle cx="267.4" cy="108.4" r="0.45" fill="#de4b5b" fill-opacity="0.35"/><circle cx="262.5" cy="86.7" r="0.45" fill="#de4b5b" fill-opacity="0.35"/><circle cx="262.9" cy="108.6" r="0.45" fill="#de4b5b" fill-opacity="0.35"/><circle cx="261.9" cy="74.1" r="0.45" fill="#de4b5b" fill-opacity="0.35"/><circle cx="267.5" cy="83.3" r="0.45" fill="#de4b5b" fill-opacity="0.35"/><polyline points="266.50,144.70 266.68,144.66 266.86,144.61 267.04,144.55 267.21,144.50 267.39,144.44 267.57,144.38 267.75,144.33 267.93,144.27 268.11,144.21 268.29,144.15 268.46,144.09 268.64,144.02 268.82,143.96 269.00,143.90 269.14,143.06 269.29,142.09 269.43,141.07 269.57,140.02 269.71,138.94 269.86,137.84 270.00,136.72 270.14,135.58 270.29,134.43 270.43,133.26 270.57,132.09 270.71,130.90 270.86,129.71 271.00,128.50" fill="none" stroke="#2f9b50" stroke-width="1.35" stroke-opacity="0.8" stroke-dasharray="1.1,0.55" stroke-linejoin="round"/><circle cx="271.4" cy="125.7" r="0.45" fill="#2f9b50" fill-opacity="0.45"/><circle cx="271.2" cy="124.1" r="0.45" fill="#2f9b50" fill-opacity="0.45"/><circle cx="270.9" cy="122.7" r="0.45" fill="#2f9b50" fill-opacity="0.45"/><circle cx="271.5" cy="131.9" r="0.45" fill="#2f9b50" fill-opacity="0.35"/><circle cx="269.4" cy="135.9" r="0.45" fill="#2f9b50" fill-opacity="0.35"/><circle cx="265.8" cy="142.6" r="0.45" fill="#2f9b50" fill-opacity="0.35"/><circle cx="269.7" cy="144.9" r="0.45" fill="#2f9b50" fill-opacity="0.35"/><circle cx="271.0" cy="132.6" r="0.45" fill="#2f9b50" fill-opacity="0.35"/><circle cx="272.4" cy="129.9" r="0.45" fill="#2f9b50" fill-opacity="0.35"/><circle cx="267.7" cy="136.3" r="0.45" fill="#2f9b50" fill-opacity="0.35"/><circle cx="268.3" cy="140.2" r="0.45" fill="#2f9b50" fill-opacity="0.35"/><polyline points="272.50,143.30 272.66,142.38 272.83,141.32 272.99,140.21 273.16,139.07 273.32,137.89 273.49,136.68 273.65,135.46 273.81,134.22 273.98,132.97 274.14,131.70 274.31,130.41 274.47,129.12 274.64,127.82 274.80,126.50 274.96,123.05 275.11,119.10 275.27,114.95 275.43,110.64 275.59,106.23 275.74,101.73 275.90,97.16 276.06,92.51 276.21,87.81 276.37,83.06 276.53,78.26 276.69,73.41 276.84,68.52 277.00,63.60" fill="none" stroke="#de4b5b" stroke-width="1" stroke-opacity="0.75" stroke-dasharray="1,1.8"/><circle cx="277.2" cy="62.0" r="0.45" fill="#de4b5b" fill-opacity="0.45"/><circle cx="277.3" cy="60.7" r="0.45" fill="#de4b5b" fill-opacity="0.45"/><circle cx="277.0" cy="58.9" r="0.45" fill="#de4b5b" fill-opacity="0.45"/><circle cx="276.0" cy="109.6" r="0.45" fill="#de4b5b" fill-opacity="0.35"/><circle cx="271.0" cy="86.3" r="0.45" fill="#de4b5b" fill-opacity="0.35"/><circle cx="272.1" cy="62.5" r="0.45" fill="#de4b5b" fill-opacity="0.35"/><circle cx="274.2" cy="112.2" r="0.45" fill="#de4b5b" fill-opacity="0.35"/><circle cx="277.7" cy="103.4" r="0.45" fill="#de4b5b" fill-opacity="0.35"/><circle cx="272.7" cy="70.9" r="0.45" fill="#de4b5b" fill-opacity="0.35"/><circle cx="271.2" cy="115.4" r="0.45" fill="#de4b5b" fill-opacity="0.35"/><circle cx="273.7" cy="59.8" r="0.45" fill="#de4b5b" fill-opacity="0.35"/><polyline points="279.00,145.00 279.07,144.95 279.14,144.88 279.21,144.82 279.29,144.75 279.36,144.68 279.43,144.61 279.50,144.53 279.57,144.46 279.64,144.38 279.71,144.31 279.79,144.23 279.86,144.16 279.93,144.08 280.00,144.00 280.07,143.84 280.14,143.65 280.21,143.45 280.29,143.24 280.36,143.03 280.43,142.82 280.50,142.60 280.57,142.38 280.64,142.15 280.71,141.93 280.79,141.70 280.86,141.47 280.93,141.23 281.00,141.00" fill="none" stroke="#2f9b50" stroke-width="1" stroke-opacity="0.75" stroke-dasharray="1,1.8"/><circle cx="280.7" cy="139.6" r="0.45" fill="#2f9b50" fill-opacity="0.45"/><circle cx="281.0" cy="137.8" r="0.45" fill="#2f9b50" fill-opacity="0.45"/><circle cx="280.5" cy="135.3" r="0.45" fill="#2f9b50" fill-opacity="0.45"/><circle cx="278.2" cy="140.8" r="0.45" fill="#2f9b50" fill-opacity="0.35"/><circle cx="278.7" cy="144.5" r="0.45" fill="#2f9b50" fill-opacity="0.35"/><circle cx="278.0" cy="138.2" r="0.45" fill="#2f9b50" fill-opacity="0.35"/><circle cx="281.9" cy="142.1" r="0.45" fill="#2f9b50" fill-opacity="0.35"/><circle cx="279.5" cy="143.3" r="0.45" fill="#2f9b50" fill-opacity="0.35"/><circle cx="277.6" cy="139.1" r="0.45" fill="#2f9b50" fill-opacity="0.35"/><circle cx="280.3" cy="142.2" r="0.45" fill="#2f9b50" fill-opacity="0.35"/><circle cx="280.7" cy="139.8" r="0.45" fill="#2f9b50" fill-opacity="0.35"/><polyline points="282.80,144.70 282.91,142.03 283.01,138.98 283.12,135.77 283.23,132.45 283.34,129.04 283.44,125.56 283.55,122.03 283.66,118.44 283.76,114.81 283.87,111.13 283.98,107.42 284.09,103.68 284.19,99.90 284.30,96.10 284.47,93.67 284.64,90.89 284.81,87.96 284.99,84.93 285.16,81.83 285.33,78.66 285.50,75.43 285.67,72.16 285.84,68.85 286.01,65.50 286.19,62.12 286.36,58.71 286.53,55.27 286.70,51.80" fill="none" stroke="#de4b5b" stroke-width="1.35" stroke-opacity="0.8" stroke-dasharray="1.1,0.55" stroke-linejoin="round"/><circle cx="287.1" cy="49.6" r="0.45" fill="#de4b5b" fill-opacity="0.45"/><circle cx="286.2" cy="46.7" r="0.45" fill="#de4b5b" fill-opacity="0.45"/><circle cx="285.0" cy="52.1" r="0.45" fill="#de4b5b" fill-opacity="0.35"/><circle cx="282.9" cy="87.3" r="0.45" fill="#de4b5b" fill-opacity="0.35"/><circle cx="286.7" cy="53.5" r="0.45" fill="#de4b5b" fill-opacity="0.35"/><circle cx="285.1" cy="49.0" r="0.45" fill="#de4b5b" fill-opacity="0.35"/><circle cx="282.3" cy="139.3" r="0.45" fill="#de4b5b" fill-opacity="0.35"/><circle cx="285.5" cy="67.2" r="0.45" fill="#de4b5b" fill-opacity="0.35"/><circle cx="285.7" cy="97.1" r="0.45" fill="#de4b5b" fill-opacity="0.35"/><circle cx="282.5" cy="126.9" r="0.45" fill="#de4b5b" fill-opacity="0.35"/><polyline points="287.30,125.60 287.46,124.17 287.63,122.53 287.79,120.81 287.96,119.02 288.12,117.19 288.29,115.32 288.45,113.42 288.61,111.50 288.78,109.55 288.94,107.57 289.11,105.58 289.27,103.57 289.44,101.54 289.60,99.50 289.75,98.18 289.90,96.67 290.05,95.07 290.20,93.43 290.35,91.73 290.50,90.01 290.65,88.26 290.80,86.48 290.95,84.68 291.10,82.86 291.25,81.02 291.40,79.16 291.55,77.29 291.70,75.40" fill="none" stroke="#2f9b50" stroke-width="1.35" stroke-opacity="0.8" stroke-dasharray="1.1,0.55" stroke-linejoin="round"/><line x1="287.30" y1="125.60" x2="286.42" y2="145.5" stroke="#2f9b50" stroke-width="0.9" stroke-opacity="0.45" stroke-dasharray="0.9,1.6"/><circle cx="291.3" cy="73.5" r="0.45" fill="#2f9b50" fill-opacity="0.45"/><circle cx="292.1" cy="72.2" r="0.45" fill="#2f9b50" fill-opacity="0.45"/><circle cx="285.8" cy="124.1" r="0.45" fill="#2f9b50" fill-opacity="0.35"/><circle cx="291.3" cy="133.6" r="0.45" fill="#2f9b50" fill-opacity="0.35"/><circle cx="291.3" cy="105.6" r="0.45" fill="#2f9b50" fill-opacity="0.35"/><circle cx="287.5" cy="104.7" r="0.45" fill="#2f9b50" fill-opacity="0.35"/><circle cx="287.5" cy="79.1" r="0.45" fill="#2f9b50" fill-opacity="0.35"/><circle cx="288.3" cy="74.3" r="0.45" fill="#2f9b50" fill-opacity="0.35"/><circle cx="290.9" cy="126.6" r="0.45" fill="#2f9b50" fill-opacity="0.35"/><circle cx="291.1" cy="133.6" r="0.45" fill="#2f9b50" fill-opacity="0.35"/><polyline points="293.10,144.70 293.21,142.43 293.31,139.84 293.42,137.11 293.53,134.29 293.64,131.39 293.74,128.44 293.85,125.43 293.96,122.38 294.06,119.30 294.17,116.18 294.28,113.02 294.39,109.84 294.49,106.63 294.60,103.40 294.80,101.46 295.00,99.24 295.20,96.90 295.40,94.48 295.60,91.99 295.80,89.46 296.00,86.89 296.20,84.27 296.40,81.63 296.60,78.95 296.80,76.25 297.00,73.52 297.20,70.77 297.40,68.00" fill="none" stroke="#de4b5b" stroke-width="1.35" stroke-opacity="0.8" stroke-dasharray="1.1,0.55" stroke-linejoin="round"/><circle cx="297.3" cy="66.2" r="0.45" fill="#de4b5b" fill-opacity="0.45"/><circle cx="297.6" cy="64.0" r="0.45" fill="#de4b5b" fill-opacity="0.45"/><circle cx="296.9" cy="61.6" r="0.45" fill="#de4b5b" fill-opacity="0.45"/><circle cx="297.9" cy="58.9" r="0.45" fill="#de4b5b" fill-opacity="0.45"/><circle cx="291.7" cy="135.3" r="0.45" fill="#de4b5b" fill-opacity="0.35"/><circle cx="293.3" cy="85.1" r="0.45" fill="#de4b5b" fill-opacity="0.35"/><circle cx="298.5" cy="124.3" r="0.45" fill="#de4b5b" fill-opacity="0.35"/><circle cx="294.0" cy="124.4" r="0.45" fill="#de4b5b" fill-opacity="0.35"/><circle cx="294.0" cy="135.3" r="0.45" fill="#de4b5b" fill-opacity="0.35"/><circle cx="298.2" cy="83.4" r="0.45" fill="#de4b5b" fill-opacity="0.35"/><circle cx="296.7" cy="115.1" r="0.45" fill="#de4b5b" fill-opacity="0.35"/><circle cx="298.7" cy="117.9" r="0.45" fill="#de4b5b" fill-opacity="0.35"/><polyline points="298.00,144.70 298.10,144.25 298.20,143.74 298.30,143.19 298.40,142.63 298.50,142.06 298.60,141.47 298.70,140.87 298.80,140.27 298.90,139.66 299.00,139.04 299.10,138.41 299.20,137.78 299.30,137.14 299.40,136.50 299.66,135.58 299.91,134.52 300.17,133.41 300.43,132.27 300.69,131.09 300.94,129.88 301.20,128.66 301.46,127.42 301.71,126.17 301.97,124.90 302.23,123.61 302.49,122.32 302.74,121.02 303.00,119.70" fill="none" stroke="#2f9b50" stroke-width="1.35" stroke-opacity="0.8" stroke-dasharray="1.1,0.55" stroke-linejoin="round"/><circle cx="303.3" cy="117.4" r="0.45" fill="#2f9b50" fill-opacity="0.45"/><circle cx="303.3" cy="114.6" r="0.45" fill="#2f9b50" fill-opacity="0.45"/><circle cx="301.1" cy="136.9" r="0.45" fill="#2f9b50" fill-opacity="0.35"/><circle cx="298.2" cy="124.7" r="0.45" fill="#2f9b50" fill-opacity="0.35"/><circle cx="297.1" cy="133.9" r="0.45" fill="#2f9b50" fill-opacity="0.35"/><circle cx="297.7" cy="142.4" r="0.45" fill="#2f9b50" fill-opacity="0.35"/><circle cx="297.4" cy="116.5" r="0.45" fill="#2f9b50" fill-opacity="0.35"/><circle cx="299.3" cy="142.9" r="0.45" fill="#2f9b50" fill-opacity="0.35"/><circle cx="296.7" cy="119.9" r="0.45" fill="#2f9b50" fill-opacity="0.35"/><circle cx="302.0" cy="116.9" r="0.45" fill="#2f9b50" fill-opacity="0.35"/><polyline points="302.40,102.00 302.61,101.06 302.81,99.98 303.02,98.84 303.23,97.66 303.44,96.46 303.64,95.23 303.85,93.98 304.06,92.71 304.26,91.42 304.47,90.12 304.68,88.81 304.89,87.48 305.09,86.15 305.30,84.80 305.41,83.96 305.51,83.00 305.62,81.99 305.73,80.94 305.84,79.87 305.94,78.78 306.05,77.66 306.16,76.53 306.26,75.39 306.37,74.23 306.48,73.07 306.59,71.89 306.69,70.70 306.80,69.50" fill="none" stroke="#de4b5b" stroke-width="1.35" stroke-opacity="0.8" stroke-dasharray="1.1,0.55" stroke-linejoin="round"/><line x1="302.40" y1="102.00" x2="298.73" y2="145.5" stroke="#de4b5b" stroke-width="0.9" stroke-opacity="0.45" stroke-dasharray="0.9,1.6"/><circle cx="306.9" cy="66.8" r="0.45" fill="#de4b5b" fill-opacity="0.45"/><circle cx="306.1" cy="63.9" r="0.45" fill="#de4b5b" fill-opacity="0.45"/><circle cx="306.9" cy="94.4" r="0.45" fill="#de4b5b" fill-opacity="0.35"/><circle cx="307.5" cy="130.7" r="0.45" fill="#de4b5b" fill-opacity="0.35"/><circle cx="307.3" cy="70.7" r="0.45" fill="#de4b5b" fill-opacity="0.35"/><circle cx="307.9" cy="138.2" r="0.45" fill="#de4b5b" fill-opacity="0.35"/><circle cx="302.4" cy="74.0" r="0.45" fill="#de4b5b" fill-opacity="0.35"/><circle cx="301.2" cy="74.4" r="0.45" fill="#de4b5b" fill-opacity="0.35"/><circle cx="306.9" cy="132.9" r="0.45" fill="#de4b5b" fill-opacity="0.35"/><circle cx="307.0" cy="115.9" r="0.45" fill="#de4b5b" fill-opacity="0.35"/><polyline points="308.30,134.40 308.44,133.91 308.59,133.35 308.73,132.77 308.87,132.16 309.01,131.53 309.16,130.90 309.30,130.25 309.44,129.59 309.59,128.93 309.73,128.25 309.87,127.57 310.01,126.89 310.16,126.20 310.30,125.50 310.47,124.78 310.64,123.95 310.81,123.08 310.99,122.17 311.16,121.25 311.33,120.30 311.50,119.34 311.67,118.37 311.84,117.38 312.01,116.38 312.19,115.38 312.36,114.36 312.53,113.33 312.70,112.30" fill="none" stroke="#2f9b50" stroke-width="1.35" stroke-opacity="0.8" stroke-dasharray="1.1,0.55" stroke-linejoin="round"/><line x1="308.30" y1="134.40" x2="307.05" y2="145.5" stroke="#2f9b50" stroke-width="0.9" stroke-opacity="0.45" stroke-dasharray="0.9,1.6"/><circle cx="312.3" cy="109.6" r="0.45" fill="#2f9b50" fill-opacity="0.45"/><circle cx="312.0" cy="108.2" r="0.45" fill="#2f9b50" fill-opacity="0.45"/><circle cx="309.2" cy="115.8" r="0.45" fill="#2f9b50" fill-opacity="0.35"/><circle cx="307.0" cy="123.9" r="0.45" fill="#2f9b50" fill-opacity="0.35"/><circle cx="308.9" cy="117.7" r="0.45" fill="#2f9b50" fill-opacity="0.35"/><circle cx="309.5" cy="134.6" r="0.45" fill="#2f9b50" fill-opacity="0.35"/><circle cx="313.9" cy="120.1" r="0.45" fill="#2f9b50" fill-opacity="0.35"/><circle cx="313.1" cy="126.8" r="0.45" fill="#2f9b50" fill-opacity="0.35"/><circle cx="307.0" cy="131.0" r="0.45" fill="#2f9b50" fill-opacity="0.35"/><circle cx="310.0" cy="123.5" r="0.45" fill="#2f9b50" fill-opacity="0.35"/><polyline points="312.70,102.00 312.86,101.07 313.03,100.00 313.19,98.88 313.36,97.71 313.52,96.52 313.69,95.31 313.85,94.07 314.01,92.81 314.18,91.54 314.34,90.26 314.51,88.96 314.67,87.65 314.84,86.33 315.00,85.00 315.15,83.66 315.30,82.13 315.45,80.52 315.60,78.85 315.75,77.14 315.90,75.39 316.05,73.62 316.20,71.82 316.35,69.99 316.50,68.15 316.65,66.29 316.80,64.41 316.95,62.51 317.10,60.60" fill="none" stroke="#de4b5b" stroke-width="1.35" stroke-opacity="0.8" stroke-dasharray="1.1,0.55" stroke-linejoin="round"/><line x1="312.70" y1="102.00" x2="309.76" y2="145.5" stroke="#de4b5b" stroke-width="0.9" stroke-opacity="0.45" stroke-dasharray="0.9,1.6"/><circle cx="316.8" cy="57.6" r="0.45" fill="#de4b5b" fill-opacity="0.45"/><circle cx="317.0" cy="54.8" r="0.45" fill="#de4b5b" fill-opacity="0.45"/><circle cx="311.9" cy="132.8" r="0.45" fill="#de4b5b" fill-opacity="0.35"/><circle cx="312.5" cy="129.1" r="0.45" fill="#de4b5b" fill-opacity="0.35"/><circle cx="312.7" cy="56.7" r="0.45" fill="#de4b5b" fill-opacity="0.35"/><circle cx="318.4" cy="124.0" r="0.45" fill="#de4b5b" fill-opacity="0.35"/><circle cx="314.8" cy="57.0" r="0.45" fill="#de4b5b" fill-opacity="0.35"/><circle cx="317.1" cy="100.0" r="0.45" fill="#de4b5b" fill-opacity="0.35"/><circle cx="314.9" cy="72.9" r="0.45" fill="#de4b5b" fill-opacity="0.35"/><circle cx="317.4" cy="87.3" r="0.45" fill="#de4b5b" fill-opacity="0.35"/><polyline points="320.00,140.30 320.15,139.60 320.30,138.81 320.45,137.97 320.60,137.10 320.75,136.21 320.90,135.30 321.05,134.38 321.20,133.44 321.35,132.49 321.50,131.53 321.65,130.56 321.80,129.58 321.95,128.59 322.10,127.60 322.27,126.03 322.44,124.24 322.61,122.35 322.79,120.39 322.96,118.39 323.13,116.34 323.30,114.26 323.47,112.15 323.64,110.01 323.81,107.85 323.99,105.66 324.16,103.46 324.33,101.24 324.50,99.00" fill="none" stroke="#2f9b50" stroke-width="1.35" stroke-opacity="0.8" stroke-dasharray="1.1,0.55" stroke-linejoin="round"/><circle cx="324.9" cy="97.2" r="0.45" fill="#2f9b50" fill-opacity="0.45"/><circle cx="324.0" cy="95.3" r="0.45" fill="#2f9b50" fill-opacity="0.45"/><circle cx="319.3" cy="119.9" r="0.45" fill="#2f9b50" fill-opacity="0.35"/><circle cx="319.1" cy="126.8" r="0.45" fill="#2f9b50" fill-opacity="0.35"/><circle cx="323.7" cy="134.4" r="0.45" fill="#2f9b50" fill-opacity="0.35"/><circle cx="323.2" cy="134.3" r="0.45" fill="#2f9b50" fill-opacity="0.35"/><circle cx="321.5" cy="112.8" r="0.45" fill="#2f9b50" fill-opacity="0.35"/><circle cx="325.2" cy="114.7" r="0.45" fill="#2f9b50" fill-opacity="0.35"/><circle cx="325.2" cy="99.3" r="0.45" fill="#2f9b50" fill-opacity="0.35"/><circle cx="320.0" cy="96.3" r="0.45" fill="#2f9b50" fill-opacity="0.35"/><polyline points="324.50,99.00 324.61,97.91 324.71,96.67 324.82,95.36 324.93,94.01 325.04,92.62 325.14,91.20 325.25,89.76 325.36,88.30 325.46,86.82 325.57,85.33 325.68,83.81 325.79,82.29 325.89,80.75 326.00,79.20 326.10,78.34 326.20,77.37 326.30,76.33 326.40,75.27 326.50,74.17 326.60,73.06 326.70,71.92 326.80,70.77 326.90,69.60 327.00,68.43 327.10,67.23 327.20,66.03 327.30,64.82 327.40,63.60" fill="none" stroke="#de4b5b" stroke-width="1.35" stroke-opacity="0.8" stroke-dasharray="1.1,0.55" stroke-linejoin="round"/><line x1="324.50" y1="99.00" x2="322.74" y2="145.5" stroke="#de4b5b" stroke-width="0.9" stroke-opacity="0.45" stroke-dasharray="0.9,1.6"/><circle cx="327.8" cy="61.8" r="0.45" fill="#de4b5b" fill-opacity="0.45"/><circle cx="327.1" cy="59.4" r="0.45" fill="#de4b5b" fill-opacity="0.45"/><circle cx="325.7" cy="79.5" r="0.45" fill="#de4b5b" fill-opacity="0.35"/><circle cx="327.5" cy="105.0" r="0.45" fill="#de4b5b" fill-opacity="0.35"/><circle cx="326.8" cy="123.9" r="0.45" fill="#de4b5b" fill-opacity="0.35"/><circle cx="324.9" cy="89.4" r="0.45" fill="#de4b5b" fill-opacity="0.35"/><circle cx="328.0" cy="72.9" r="0.45" fill="#de4b5b" fill-opacity="0.35"/><circle cx="327.4" cy="116.1" r="0.45" fill="#de4b5b" fill-opacity="0.35"/><circle cx="325.6" cy="74.1" r="0.45" fill="#de4b5b" fill-opacity="0.35"/><circle cx="326.4" cy="125.7" r="0.45" fill="#de4b5b" fill-opacity="0.35"/><polyline points="330.30,145.00 330.35,144.98 330.40,144.96 330.45,144.94 330.50,144.92 330.55,144.90 330.60,144.88 330.65,144.86 330.70,144.84 330.75,144.82 330.80,144.79 330.85,144.77 330.90,144.75 330.95,144.72 331.00,144.70 331.06,144.61 331.11,144.50 331.17,144.39 331.23,144.27 331.29,144.15 331.34,144.03 331.40,143.91 331.46,143.78 331.51,143.65 331.57,143.53 331.63,143.40 331.69,143.27 331.74,143.13 331.80,143.00" fill="none" stroke="#2f9b50" stroke-width="1" stroke-opacity="0.75" stroke-dasharray="1,1.8"/><circle cx="331.6" cy="141.5" r="0.45" fill="#2f9b50" fill-opacity="0.45"/><circle cx="331.3" cy="138.3" r="0.45" fill="#2f9b50" fill-opacity="0.45"/><circle cx="332.0" cy="140.8" r="0.45" fill="#2f9b50" fill-opacity="0.35"/><circle cx="329.5" cy="144.1" r="0.45" fill="#2f9b50" fill-opacity="0.35"/><circle cx="329.9" cy="139.9" r="0.45" fill="#2f9b50" fill-opacity="0.35"/><circle cx="331.1" cy="141.0" r="0.45" fill="#2f9b50" fill-opacity="0.35"/><circle cx="330.3" cy="140.0" r="0.45" fill="#2f9b50" fill-opacity="0.35"/><circle cx="333.2" cy="140.1" r="0.45" fill="#2f9b50" fill-opacity="0.35"/><circle cx="329.3" cy="143.4" r="0.45" fill="#2f9b50" fill-opacity="0.35"/><circle cx="329.3" cy="144.8" r="0.45" fill="#2f9b50" fill-opacity="0.35"/><polyline points="334.80,107.80 334.91,106.75 335.01,105.55 335.12,104.29 335.23,102.99 335.34,101.65 335.44,100.28 335.55,98.89 335.66,97.48 335.76,96.05 335.87,94.61 335.98,93.15 336.09,91.68 336.19,90.20 336.30,88.70 336.47,87.32 336.64,85.75 336.81,84.09 336.99,82.37 337.16,80.61 337.33,78.82 337.50,76.99 337.67,75.14 337.84,73.26 338.01,71.36 338.19,69.45 338.36,67.51 338.53,65.56 338.70,63.60" fill="none" stroke="#de4b5b" stroke-width="1.35" stroke-opacity="0.8" stroke-dasharray="1.1,0.55" stroke-linejoin="round"/><line x1="334.80" y1="107.80" x2="333.32" y2="145.5" stroke="#de4b5b" stroke-width="0.9" stroke-opacity="0.45" stroke-dasharray="0.9,1.6"/><circle cx="339.2" cy="61.5" r="0.45" fill="#de4b5b" fill-opacity="0.45"/><circle cx="338.9" cy="58.5" r="0.45" fill="#de4b5b" fill-opacity="0.45"/><circle cx="338.2" cy="56.3" r="0.45" fill="#de4b5b" fill-opacity="0.45"/><circle cx="334.7" cy="68.7" r="0.45" fill="#de4b5b" fill-opacity="0.35"/><circle cx="333.5" cy="92.8" r="0.45" fill="#de4b5b" fill-opacity="0.35"/><circle cx="338.8" cy="93.7" r="0.45" fill="#de4b5b" fill-opacity="0.35"/><circle cx="336.8" cy="118.8" r="0.45" fill="#de4b5b" fill-opacity="0.35"/><circle cx="336.5" cy="113.6" r="0.45" fill="#de4b5b" fill-opacity="0.35"/><circle cx="337.5" cy="71.7" r="0.45" fill="#de4b5b" fill-opacity="0.35"/><circle cx="338.4" cy="94.2" r="0.45" fill="#de4b5b" fill-opacity="0.35"/><circle cx="336.3" cy="137.1" r="0.45" fill="#de4b5b" fill-opacity="0.35"/><polyline points="339.20,122.60 339.37,121.39 339.54,120.00 339.71,118.54 339.89,117.03 340.06,115.48 340.23,113.90 340.40,112.29 340.57,110.66 340.74,109.01 340.91,107.34 341.09,105.65 341.26,103.95 341.43,102.23 341.60,100.50 341.75,99.61 341.90,98.58 342.05,97.51 342.20,96.39 342.35,95.25 342.50,94.08 342.65,92.90 342.80,91.69 342.95,90.47 343.10,89.24 343.25,88.00 343.40,86.74 343.55,85.48 343.70,84.20" fill="none" stroke="#2f9b50" stroke-width="1.35" stroke-opacity="0.8" stroke-dasharray="1.1,0.55" stroke-linejoin="round"/><line x1="339.20" y1="122.60" x2="337.96" y2="145.5" stroke="#2f9b50" stroke-width="0.9" stroke-opacity="0.45" stroke-dasharray="0.9,1.6"/><circle cx="343.9" cy="81.7" r="0.45" fill="#2f9b50" fill-opacity="0.45"/><circle cx="343.2" cy="79.5" r="0.45" fill="#2f9b50" fill-opacity="0.45"/><circle cx="343.5" cy="137.2" r="0.45" fill="#2f9b50" fill-opacity="0.35"/><circle cx="344.1" cy="125.6" r="0.45" fill="#2f9b50" fill-opacity="0.35"/><circle cx="342.5" cy="124.2" r="0.45" fill="#2f9b50" fill-opacity="0.35"/><circle cx="340.0" cy="109.6" r="0.45" fill="#2f9b50" fill-opacity="0.35"/><circle cx="338.4" cy="120.9" r="0.45" fill="#2f9b50" fill-opacity="0.35"/><circle cx="343.6" cy="107.4" r="0.45" fill="#2f9b50" fill-opacity="0.35"/><circle cx="342.4" cy="126.4" r="0.45" fill="#2f9b50" fill-opacity="0.35"/><circle cx="340.9" cy="96.4" r="0.45" fill="#2f9b50" fill-opacity="0.35"/><polyline points="345.10,113.70 345.21,112.30 345.31,110.69 345.42,109.00 345.53,107.25 345.64,105.45 345.74,103.62 345.85,101.76 345.96,99.87 346.06,97.95 346.17,96.02 346.28,94.06 346.39,92.09 346.49,90.10 346.60,88.10 346.71,87.08 346.81,85.91 346.92,84.68 347.03,83.41 347.14,82.11 347.24,80.78 347.35,79.42 347.46,78.05 347.56,76.66 347.67,75.25 347.78,73.83 347.89,72.40 347.99,70.96 348.10,69.50" fill="none" stroke="#de4b5b" stroke-width="1.35" stroke-opacity="0.8" stroke-dasharray="1.1,0.55" stroke-linejoin="round"/><line x1="345.10" y1="113.70" x2="344.17" y2="145.5" stroke="#de4b5b" stroke-width="0.9" stroke-opacity="0.45" stroke-dasharray="0.9,1.6"/><circle cx="348.1" cy="67.3" r="0.45" fill="#de4b5b" fill-opacity="0.45"/><circle cx="349.2" cy="119.2" r="0.45" fill="#de4b5b" fill-opacity="0.35"/><circle cx="347.5" cy="80.1" r="0.45" fill="#de4b5b" fill-opacity="0.35"/><circle cx="345.9" cy="127.4" r="0.45" fill="#de4b5b" fill-opacity="0.35"/><circle cx="349.4" cy="104.4" r="0.45" fill="#de4b5b" fill-opacity="0.35"/><circle cx="346.9" cy="68.5" r="0.45" fill="#de4b5b" fill-opacity="0.35"/><circle cx="348.3" cy="78.3" r="0.45" fill="#de4b5b" fill-opacity="0.35"/><circle cx="346.7" cy="140.3" r="0.45" fill="#de4b5b" fill-opacity="0.35"/><circle cx="347.0" cy="73.5" r="0.45" fill="#de4b5b" fill-opacity="0.35"/><polyline points="349.60,125.50 349.74,124.13 349.89,122.56 350.03,120.91 350.17,119.20 350.31,117.44 350.46,115.66 350.60,113.84 350.74,111.99 350.89,110.12 351.03,108.23 351.17,106.33 351.31,104.40 351.46,102.46 351.60,100.50 351.77,99.28 351.94,97.89 352.11,96.42 352.29,94.90 352.46,93.35 352.63,91.76 352.80,90.14 352.97,88.50 353.14,86.85 353.31,85.17 353.49,83.47 353.66,81.76 353.83,80.04 354.00,78.30" fill="none" stroke="#2f9b50" stroke-width="1.35" stroke-opacity="0.8" stroke-dasharray="1.1,0.55" stroke-linejoin="round"/><line x1="349.60" y1="125.50" x2="348.80" y2="145.5" stroke="#2f9b50" stroke-width="0.9" stroke-opacity="0.45" stroke-dasharray="0.9,1.6"/><circle cx="354.1" cy="75.9" r="0.45" fill="#2f9b50" fill-opacity="0.45"/><circle cx="354.0" cy="73.5" r="0.45" fill="#2f9b50" fill-opacity="0.45"/><circle cx="351.1" cy="111.2" r="0.45" fill="#2f9b50" fill-opacity="0.35"/><circle cx="349.7" cy="141.3" r="0.45" fill="#2f9b50" fill-opacity="0.35"/><circle cx="351.0" cy="122.7" r="0.45" fill="#2f9b50" fill-opacity="0.35"/><circle cx="349.0" cy="128.2" r="0.45" fill="#2f9b50" fill-opacity="0.35"/><circle cx="350.7" cy="143.9" r="0.45" fill="#2f9b50" fill-opacity="0.35"/><circle cx="350.1" cy="78.3" r="0.45" fill="#2f9b50" fill-opacity="0.35"/><circle cx="348.2" cy="102.6" r="0.45" fill="#2f9b50" fill-opacity="0.35"/><circle cx="351.2" cy="103.9" r="0.45" fill="#2f9b50" fill-opacity="0.35"/><polyline points="355.50,140.30 355.56,139.49 355.63,138.56 355.69,137.58 355.76,136.57 355.82,135.53 355.89,134.47 355.95,133.40 356.01,132.30 356.08,131.20 356.14,130.08 356.21,128.95 356.27,127.81 356.34,126.66 356.40,125.50 356.54,124.85 356.69,124.11 356.83,123.33 356.97,122.53 357.11,121.70 357.26,120.85 357.40,120.00 357.54,119.12 357.69,118.24 357.83,117.35 357.97,116.45 358.11,115.54 358.26,114.62 358.40,113.70" fill="none" stroke="#de4b5b" stroke-width="1.35" stroke-opacity="0.8" stroke-dasharray="1.1,0.55" stroke-linejoin="round"/><circle cx="358.1" cy="110.9" r="0.45" fill="#de4b5b" fill-opacity="0.45"/><circle cx="357.9" cy="109.1" r="0.45" fill="#de4b5b" fill-opacity="0.45"/><circle cx="357.1" cy="142.9" r="0.45" fill="#de4b5b" fill-opacity="0.35"/><circle cx="358.7" cy="117.4" r="0.45" fill="#de4b5b" fill-opacity="0.35"/><circle cx="355.3" cy="123.5" r="0.45" fill="#de4b5b" fill-opacity="0.35"/><circle cx="358.6" cy="114.3" r="0.45" fill="#de4b5b" fill-opacity="0.35"/><circle cx="357.7" cy="138.3" r="0.45" fill="#de4b5b" fill-opacity="0.35"/><circle cx="357.3" cy="126.3" r="0.45" fill="#de4b5b" fill-opacity="0.35"/><circle cx="359.7" cy="117.7" r="0.45" fill="#de4b5b" fill-opacity="0.35"/><circle cx="357.8" cy="122.2" r="0.45" fill="#de4b5b" fill-opacity="0.35"/><rect x="42.70" y="88.95" width="3" height="1.3" fill="#222"/><rect x="48.30" y="106.65" width="3" height="1.3" fill="#222"/><rect x="53.60" y="100.35" width="3" height="1.3" fill="#222"/><rect x="58.00" y="96.85" width="3" height="1.3" fill="#222"/><rect x="63.30" y="68.85" width="3" height="1.3" fill="#222"/><rect x="68.30" y="96.85" width="3" height="1.3" fill="#222"/><rect x="72.70" y="134.35" width="3" height="1.3" fill="#222"/><rect x="77.90" y="141.35" width="3" height="1.3" fill="#222"/><rect x="84.00" y="86.55" width="3" height="1.3" fill="#222"/><rect x="89.00" y="135.35" width="3" height="1.3" fill="#222"/><rect x="95.00" y="136.35" width="3" height="1.3" fill="#222"/><rect x="99.50" y="143.85" width="3" height="1.3" fill="#222"/><rect x="104.40" y="80.05" width="3" height="1.3" fill="#222"/><rect x="109.50" y="91.35" width="3" height="1.3" fill="#222"/><rect x="113.80" y="131.35" width="3" height="1.3" fill="#222"/><rect x="119.70" y="127.25" width="3" height="1.3" fill="#222"/><rect x="124.50" y="60.85" width="3" height="1.3" fill="#222"/><rect x="130.40" y="82.15" width="3" height="1.3" fill="#222"/><rect x="134.50" y="136.65" width="3" height="1.3" fill="#222"/><rect x="139.80" y="112.55" width="3" height="1.3" fill="#222"/><rect x="145.00" y="131.35" width="3" height="1.3" fill="#222"/><rect x="150.70" y="109.35" width="3" height="1.3" fill="#222"/><rect x="154.50" y="141.15" width="3" height="1.3" fill="#222"/><rect x="160.50" y="109.35" width="3" height="1.3" fill="#222"/><rect x="165.20" y="143.15" width="3" height="1.3" fill="#222"/><rect x="170.80" y="143.85" width="3" height="1.3" fill="#222"/><rect x="175.90" y="127.25" width="3" height="1.3" fill="#222"/><rect x="180.90" y="127.25" width="3" height="1.3" fill="#222"/><rect x="186.20" y="143.15" width="3" height="1.3" fill="#222"/><rect x="190.00" y="143.85" width="3" height="1.3" fill="#222"/><rect x="196.50" y="90.05" width="3" height="1.3" fill="#222"/><rect x="201.50" y="122.85" width="3" height="1.3" fill="#222"/><rect x="206.00" y="76.25" width="3" height="1.3" fill="#222"/><rect x="212.50" y="114.35" width="3" height="1.3" fill="#222"/><rect x="216.60" y="85.05" width="3" height="1.3" fill="#222"/><rect x="222.20" y="95.35" width="3" height="1.3" fill="#222"/><rect x="226.90" y="85.05" width="3" height="1.3" fill="#222"/><rect x="231.30" y="94.35" width="3" height="1.3" fill="#222"/><rect x="237.00" y="140.35" width="3" height="1.3" fill="#222"/><rect x="242.50" y="141.15" width="3" height="1.3" fill="#222"/><rect x="247.00" y="143.85" width="3" height="1.3" fill="#222"/><rect x="252.70" y="100.35" width="3" height="1.3" fill="#222"/><rect x="257.70" y="94.85" width="3" height="1.3" fill="#222"/><rect x="263.50" y="90.15" width="3" height="1.3" fill="#222"/><rect x="267.50" y="143.25" width="3" height="1.3" fill="#222"/><rect x="273.30" y="125.85" width="3" height="1.3" fill="#222"/><rect x="278.50" y="143.35" width="3" height="1.3" fill="#222"/><rect x="282.80" y="95.45" width="3" height="1.3" fill="#222"/><rect x="288.10" y="98.85" width="3" height="1.3" fill="#222"/><rect x="293.10" y="102.75" width="3" height="1.3" fill="#222"/><rect x="297.90" y="135.85" width="3" height="1.3" fill="#222"/><rect x="303.80" y="84.15" width="3" height="1.3" fill="#222"/><rect x="308.80" y="124.85" width="3" height="1.3" fill="#222"/><rect x="313.50" y="84.35" width="3" height="1.3" fill="#222"/><rect x="320.60" y="126.95" width="3" height="1.3" fill="#222"/><rect x="324.50" y="78.55" width="3" height="1.3" fill="#222"/><rect x="329.50" y="144.05" width="3" height="1.3" fill="#222"/><rect x="334.80" y="88.05" width="3" height="1.3" fill="#222"/><rect x="340.10" y="99.85" width="3" height="1.3" fill="#222"/><rect x="345.10" y="87.45" width="3" height="1.3" fill="#222"/><rect x="350.10" y="99.85" width="3" height="1.3" fill="#222"/><rect x="354.90" y="124.85" width="3" height="1.3" fill="#222"/><rect x="31.6" y="21.6" width="327.59999999999997" height="124.80000000000001" fill="none" stroke="#333" stroke-width="1"/><text x="26.2" y="146.9" font-size="5.6" font-weight="bold" text-anchor="end" fill="#4a4a4a">0</text><text x="26.2" y="126.4" font-size="5.6" font-weight="bold" text-anchor="end" fill="#4a4a4a">2</text><text x="26.2" y="105.9" font-size="5.6" font-weight="bold" text-anchor="end" fill="#4a4a4a">4</text><text x="26.2" y="85.4" font-size="5.6" font-weight="bold" text-anchor="end" fill="#4a4a4a">6</text><text x="26.2" y="64.9" font-size="5.6" font-weight="bold" text-anchor="end" fill="#4a4a4a">8</text><text x="26.2" y="44.4" font-size="5.6" font-weight="bold" text-anchor="end" fill="#4a4a4a">10</text><text transform="translate(7.7,83.05) rotate(-90)" font-size="8" font-weight="bold" text-anchor="middle" textLength="132.9" lengthAdjust="spacingAndGlyphs" fill="#111">CDH3 Transcripts per million (TPM)</text><text transform="translate(35.82,20.0) rotate(-58)" font-size="6.8" font-weight="bold" fill="#1e1e1e">ACC</text><text transform="translate(46.06,20.0) rotate(-58)" font-size="6.9" font-weight="bold" font-family="Liberation Serif, serif" fill="#ec8c94">BLCA</text><text transform="translate(56.30,20.0) rotate(-58)" font-size="6.8" font-weight="bold" fill="#1e1e1e">BRCA</text><text transform="translate(66.54,20.0) rotate(-58)" font-size="6.9" font-weight="bold" font-family="Liberation Serif, serif" fill="#ec8c94">CESC</text><text transform="translate(76.78,20.0) rotate(-58)" font-size="6.8" font-weight="bold" fill="#1e1e1e">CHOL</text><text transform="translate(87.02,20.0) rotate(-58)" font-size="6.9" font-weight="bold" font-family="Liberation Serif, serif" fill="#ec8c94">COAD</text><text transform="translate(97.26,20.0) rotate(-58)" font-size="6.8" font-weight="bold" fill="#1e1e1e">DLBC</text><text transform="translate(107.50,20.0) rotate(-58)" font-size="6.9" font-weight="bold" font-family="Liberation Serif, serif" fill="#ec8c94">ESCA</text><text transform="translate(117.74,20.0) rotate(-58)" font-size="6.8" font-weight="bold" fill="#1e1e1e">GBM</text><text transform="translate(127.98,20.0) rotate(-58)" font-size="6.9" font-weight="bold" font-family="Liberation Serif, serif" fill="#ec8c94">HNSC</text><text transform="translate(138.22,20.0) rotate(-58)" font-size="6.9" font-weight="bold" font-family="Liberation Serif, serif" fill="#3aa865">KICH</text><text transform="translate(148.46,20.0) rotate(-58)" font-size="6.9" font-weight="bold" font-family="Liberation Serif, serif" fill="#3aa865">KIRC</text><text transform="translate(158.70,20.0) rotate(-58)" font-size="6.9" font-weight="bold" font-family="Liberation Serif, serif" fill="#3aa865">KIRP</text><text transform="translate(168.94,20.0) rotate(-58)" font-size="6.8" font-weight="bold" fill="#1e1e1e">LAML</text><text transform="translate(179.18,20.0) rotate(-58)" font-size="6.8" font-weight="bold" fill="#1e1e1e">LGG</text><text transform="translate(189.42,20.0) rotate(-58)" font-size="6.8" font-weight="bold" fill="#1e1e1e">LIHC</text><text transform="translate(199.66,20.0) rotate(-58)" font-size="6.9" font-weight="bold" font-family="Liberation Serif, serif" fill="#ec8c94">LUAD</text><text transform="translate(209.90,20.0) rotate(-58)" font-size="6.9" font-weight="bold" font-family="Liberation Serif, serif" fill="#ec8c94">LUSC</text><text transform="translate(217.58,20.0) rotate(-58)" font-size="6.8" font-weight="bold" fill="#1e1e1e">MESO</text><text transform="translate(225.26,20.0) rotate(-58)" font-size="6.8" font-weight="bold" fill="#1e1e1e">OV</text><text transform="translate(235.50,20.0) rotate(-58)" font-size="6.9" font-weight="bold" font-family="Liberation Serif, serif" fill="#ec8c94">PAAD</text><text transform="translate(245.74,20.0) rotate(-58)" font-size="6.8" font-weight="bold" fill="#1e1e1e">PCPG</text><text transform="translate(255.98,20.0) rotate(-58)" font-size="6.8" font-weight="bold" fill="#1e1e1e">PRAD</text><text transform="translate(266.22,20.0) rotate(-58)" font-size="6.9" font-weight="bold" font-family="Liberation Serif, serif" fill="#ec8c94">READ</text><text transform="translate(276.46,20.0) rotate(-58)" font-size="6.8" font-weight="bold" fill="#1e1e1e">SARC</text><text transform="translate(286.70,20.0) rotate(-58)" font-size="6.8" font-weight="bold" fill="#1e1e1e">SKCM</text><text transform="translate(296.94,20.0) rotate(-58)" font-size="6.9" font-weight="bold" font-family="Liberation Serif, serif" fill="#ec8c94">STAD</text><text transform="translate(307.18,20.0) rotate(-58)" font-size="6.9" font-weight="bold" font-family="Liberation Serif, serif" fill="#ec8c94">TGCT</text><text transform="translate(317.42,20.0) rotate(-58)" font-size="6.9" font-weight="bold" font-family="Liberation Serif, serif" fill="#ec8c94">THCA</text><text transform="translate(327.66,20.0) rotate(-58)" font-size="6.9" font-weight="bold" font-family="Liberation Serif, serif" fill="#ec8c94">THYM</text><text transform="translate(337.90,20.0) rotate(-58)" font-size="6.8" font-weight="bold" fill="#1e1e1e">UCEC</text><text transform="translate(348.14,20.0) rotate(-58)" font-size="6.8" font-weight="bold" fill="#1e1e1e">UCS</text><text transform="translate(355.82,20.0) rotate(-58)" font-size="6.8" font-weight="bold" fill="#1e1e1e">UVM</text><text transform="translate(34.12,148.8) rotate(-60)" font-size="5.2" font-weight="bold" text-anchor="end" fill="#333">Tumor</text><text transform="translate(39.12,148.8) rotate(-60)" font-size="5.2" font-weight="bold" text-anchor="end" fill="#333">Normal</text><text transform="translate(44.36,148.8) rotate(-60)" font-size="5.2" font-weight="bold" text-anchor="end" fill="#333">Tumor</text><text transform="translate(49.36,148.8) rotate(-60)" font-size="5.2" font-weight="bold" text-anchor="end" fill="#333">Normal</text><text transform="translate(54.60,148.8) rotate(-60)" font-size="5.2" font-weight="bold" text-anchor="end" fill="#333">Tumor</text><text transform="translate(59.60,148.8) rotate(-60)" font-size="5.2" font-weight="bold" text-anchor="end" fill="#333">Normal</text><text transform="translate(64.84,148.8) rotate(-60)" font-size="5.2" font-weight="bold" text-anchor="end" fill="#333">Tumor</text><text transform="translate(69.84,148.8) rotate(-60)" font-size="5.2" font-weight="bold" text-anchor="end" fill="#333">Normal</text><text transform="translate(75.08,148.8) rotate(-60)" font-size="5.2" font-weight="bold" text-anchor="end" fill="#333">Tumor</text><text transform="translate(80.08,148.8) rotate(-60)" font-size="5.2" font-weight="bold" text-anchor="end" fill="#333">Normal</text><text transform="translate(85.32,148.8) rotate(-60)" font-size="5.2" font-weight="bold" text-anchor="end" fill="#333">Tumor</text><text transform="translate(90.32,148.8) rotate(-60)" font-size="5.2" font-weight="bold" text-anchor="end" fill="#333">Normal</text><text transform="translate(95.56,148.8) rotate(-60)" font-size="5.2" font-weight="bold" text-anchor="end" fill="#333">Tumor</text><text transform="translate(100.56,148.8) rotate(-60)" font-size="5.2" font-weight="bold" text-anchor="end" fill="#333">Normal</text><text transform="translate(105.80,148.8) rotate(-60)" font-size="5.2" font-weight="bold" text-anchor="end" fill="#333">Tumor</text><text transform="translate(110.80,148.8) rotate(-60)" font-size="5.2" font-weight="bold" text-anchor="end" fill="#333">Normal</text><text transform="translate(116.04,148.8) rotate(-60)" font-size="5.2" font-weight="bold" text-anchor="end" fill="#333">Tumor</text><text transform="translate(121.04,148.8) rotate(-60)" font-size="5.2" font-weight="bold" text-anchor="end" fill="#333">Normal</text><text transform="translate(126.28,148.8) rotate(-60)" font-size="5.2" font-weight="bold" text-anchor="end" fill="#333">Tumor</text><text transform="translate(131.28,148.8) rotate(-60)" font-size="5.2" font-weight="bold" text-anchor="end" fill="#333">Normal</text><text transform="translate(136.52,148.8) rotate(-60)" font-size="5.2" font-weight="bold" text-anchor="end" fill="#333">Tumor</text><text transform="translate(141.52,148.8) rotate(-60)" font-size="5.2" font-weight="bold" text-anchor="end" fill="#333">Normal</text><text transform="translate(146.76,148.8) rotate(-60)" font-size="5.2" font-weight="bold" text-anchor="end" fill="#333">Tumor</text><text transform="translate(151.76,148.8) rotate(-60)" font-size="5.2" font-weight="bold" text-anchor="end" fill="#333">Normal</text><text transform="translate(157.00,148.8) rotate(-60)" font-size="5.2" font-weight="bold" text-anchor="end" fill="#333">Tumor</text><text transform="translate(162.00,148.8) rotate(-60)" font-size="5.2" font-weight="bold" text-anchor="end" fill="#333">Normal</text><text transform="translate(167.24,148.8) rotate(-60)" font-size="5.2" font-weight="bold" text-anchor="end" fill="#333">Tumor</text><text transform="translate(172.24,148.8) rotate(-60)" font-size="5.2" font-weight="bold" text-anchor="end" fill="#333">Normal</text><text transform="translate(177.48,148.8) rotate(-60)" font-size="5.2" font-weight="bold" text-anchor="end" fill="#333">Tumor</text><text transform="translate(182.48,148.8) rotate(-60)" font-size="5.2" font-weight="bold" text-anchor="end" fill="#333">Normal</text><text transform="translate(187.72,148.8) rotate(-60)" font-size="5.2" font-weight="bold" text-anchor="end" fill="#333">Tumor</text><text transform="translate(192.72,148.8) rotate(-60)" font-size="5.2" font-weight="bold" text-anchor="end" fill="#333">Normal</text><text transform="translate(197.96,148.8) rotate(-60)" font-size="5.2" font-weight="bold" text-anchor="end" fill="#333">Tumor</text><text transform="translate(202.96,148.8) rotate(-60)" font-size="5.2" font-weight="bold" text-anchor="end" fill="#333">Normal</text><text transform="translate(208.20,148.8) rotate(-60)" font-size="5.2" font-weight="bold" text-anchor="end" fill="#333">Tumor</text><text transform="translate(213.20,148.8) rotate(-60)" font-size="5.2" font-weight="bold" text-anchor="end" fill="#333">Normal</text><text transform="translate(218.38,148.8) rotate(-60)" font-size="5.2" font-weight="bold" text-anchor="end" fill="#333">Tumor</text><text transform="translate(223.56,148.8) rotate(-60)" font-size="5.2" font-weight="bold" text-anchor="end" fill="#333">Tumor</text><text transform="translate(228.56,148.8) rotate(-60)" font-size="5.2" font-weight="bold" text-anchor="end" fill="#333">Normal</text><text transform="translate(233.80,148.8) rotate(-60)" font-size="5.2" font-weight="bold" text-anchor="end" fill="#333">Tumor</text><text transform="translate(238.80,148.8) rotate(-60)" font-size="5.2" font-weight="bold" text-anchor="end" fill="#333">Normal</text><text transform="translate(244.04,148.8) rotate(-60)" font-size="5.2" font-weight="bold" text-anchor="end" fill="#333">Tumor</text><text transform="translate(249.04,148.8) rotate(-60)" font-size="5.2" font-weight="bold" text-anchor="end" fill="#333">Normal</text><text transform="translate(254.28,148.8) rotate(-60)" font-size="5.2" font-weight="bold" text-anchor="end" fill="#333">Tumor</text><text transform="translate(259.28,148.8) rotate(-60)" font-size="5.2" font-weight="bold" text-anchor="end" fill="#333">Normal</text><text transform="translate(264.52,148.8) rotate(-60)" font-size="5.2" font-weight="bold" text-anchor="end" fill="#333">Tumor</text><text transform="translate(269.52,148.8) rotate(-60)" font-size="5.2" font-weight="bold" text-anchor="end" fill="#333">Normal</text><text transform="translate(274.76,148.8) rotate(-60)" font-size="5.2" font-weight="bold" text-anchor="end" fill="#333">Tumor</text><text transform="translate(279.76,148.8) rotate(-60)" font-size="5.2" font-weight="bold" text-anchor="end" fill="#333">Normal</text><text transform="translate(285.00,148.8) rotate(-60)" font-size="5.2" font-weight="bold" text-anchor="end" fill="#333">Tumor</text><text transform="translate(290.00,148.8) rotate(-60)" font-size="5.2" font-weight="bold" text-anchor="end" fill="#333">Normal</text><text transform="translate(295.24,148.8) rotate(-60)" font-size="5.2" font-weight="bold" text-anchor="end" fill="#333">Tumor</text><text transform="translate(300.24,148.8) rotate(-60)" font-size="5.2" font-weight="bold" text-anchor="end" fill="#333">Normal</text><text transform="translate(305.48,148.8) rotate(-60)" font-size="5.2" font-weight="bold" text-anchor="end" fill="#333">Tumor</text><text transform="translate(310.48,148.8) rotate(-60)" font-size="5.2" font-weight="bold" text-anchor="end" fill="#333">Normal</text><text transform="translate(315.72,148.8) rotate(-60)" font-size="5.2" font-weight="bold" text-anchor="end" fill="#333">Tumor</text><text transform="translate(320.72,148.8) rotate(-60)" font-size="5.2" font-weight="bold" text-anchor="end" fill="#333">Normal</text><text transform="translate(325.96,148.8) rotate(-60)" font-size="5.2" font-weight="bold" text-anchor="end" fill="#333">Tumor</text><text transform="translate(330.96,148.8) rotate(-60)" font-size="5.2" font-weight="bold" text-anchor="end" fill="#333">Normal</text><text transform="translate(336.20,148.8) rotate(-60)" font-size="5.2" font-weight="bold" text-anchor="end" fill="#333">Tumor</text><text transform="translate(341.20,148.8) rotate(-60)" font-size="5.2" font-weight="bold" text-anchor="end" fill="#333">Normal</text><text transform="translate(346.44,148.8) rotate(-60)" font-size="5.2" font-weight="bold" text-anchor="end" fill="#333">Tumor</text><text transform="translate(351.44,148.8) rotate(-60)" font-size="5.2" font-weight="bold" text-anchor="end" fill="#333">Normal</text><text transform="translate(356.62,148.8) rotate(-60)" font-size="5.2" font-weight="bold" text-anchor="end" fill="#333">Tumor</text></g><g><rect x="402.4" y="16.3" width="113.2" height="124.7" fill="none" stroke="#333" stroke-width="1"/><line x1="399.5" y1="124.9" x2="402.4" y2="124.9" stroke="#333" stroke-width="0.8"/><text x="397.2" y="127.1" font-size="6.3" text-anchor="end" fill="#444">-2</text><line x1="399.5" y1="100.0" x2="402.4" y2="100.0" stroke="#333" stroke-width="0.8"/><text x="397.2" y="102.2" font-size="6.3" text-anchor="end" fill="#444">0</text><line x1="399.5" y1="75.1" x2="402.4" y2="75.1" stroke="#333" stroke-width="0.8"/><text x="397.2" y="77.3" font-size="6.3" text-anchor="end" fill="#444">2</text><line x1="399.5" y1="50.2" x2="402.4" y2="50.2" stroke="#333" stroke-width="0.8"/><text x="397.2" y="52.4" font-size="6.3" text-anchor="end" fill="#444">4</text><line x1="399.5" y1="25.3" x2="402.4" y2="25.3" stroke="#333" stroke-width="0.8"/><text x="397.2" y="27.5" font-size="6.3" text-anchor="end" fill="#444">6</text><line x1="402.4" y1="100.4" x2="515.6" y2="100.4" stroke="#3a3a3a" stroke-width="1"/><line x1="424" y1="62.4" x2="424" y2="90.7" stroke="#555" stroke-width="0.9" stroke-dasharray="0.9,0.6"/><line x1="424" y1="111.1" x2="424" y2="138.2" stroke="#555" stroke-width="0.9" stroke-dasharray="0.9,0.6"/><line x1="417.2" y1="62.4" x2="430.8" y2="62.4" stroke="#333" stroke-width="0.9"/><line x1="417.2" y1="138.2" x2="430.8" y2="138.2" stroke="#333" stroke-width="0.9"/><rect x="409.7" y="90.7" width="28.6" height="20.39999999999999" fill="none" stroke="#333" stroke-width="0.9"/><line x1="409.7" y1="100" x2="438.3" y2="100" stroke="#111" stroke-width="1.5"/><line x1="424" y1="141" x2="424" y2="144" stroke="#333" stroke-width="0.8"/><text x="424" y="152.5" font-size="7" text-anchor="middle" fill="#222">Normal</text><text x="414" y="162" font-size="7" textLength="21.9" lengthAdjust="spacingAndGlyphs" fill="#222"><tspan font-style="italic">n</tspan> = 158</text><line x1="459.4" y1="30.3" x2="459.4" y2="61.0" stroke="#555" stroke-width="0.9" stroke-dasharray="0.9,0.6"/><line x1="459.4" y1="82.3" x2="459.4" y2="114.5" stroke="#555" stroke-width="0.9" stroke-dasharray="0.9,0.6"/><line x1="452.59999999999997" y1="30.3" x2="466.2" y2="30.3" stroke="#333" stroke-width="0.9"/><line x1="452.59999999999997" y1="114.5" x2="466.2" y2="114.5" stroke="#333" stroke-width="0.9"/><rect x="445.09999999999997" y="61.0" width="28.6" height="21.299999999999997" fill="none" stroke="#333" stroke-width="0.9"/><line x1="445.09999999999997" y1="71.7" x2="473.7" y2="71.7" stroke="#111" stroke-width="1.5"/><line x1="459.4" y1="141" x2="459.4" y2="144" stroke="#333" stroke-width="0.8"/><text x="459.4" y="152.5" font-size="7" text-anchor="middle" fill="#222">Primary</text><text x="447.6" y="162" font-size="7" textLength="27.5" lengthAdjust="spacingAndGlyphs" fill="#222"><tspan font-style="italic">n</tspan> = 1,418</text><line x1="494.1" y1="30.9" x2="494.1" y2="51.3" stroke="#555" stroke-width="0.9" stroke-dasharray="0.9,0.6"/><line x1="494.1" y1="80.1" x2="494.1" y2="109.1" stroke="#555" stroke-width="0.9" stroke-dasharray="0.9,0.6"/><line x1="487.3" y1="30.9" x2="500.90000000000003" y2="30.9" stroke="#333" stroke-width="0.9"/><line x1="487.3" y1="109.1" x2="500.90000000000003" y2="109.1" stroke="#333" stroke-width="0.9"/><rect x="479.8" y="51.3" width="28.6" height="28.799999999999997" fill="none" stroke="#333" stroke-width="0.9"/><line x1="479.8" y1="65.3" x2="508.40000000000003" y2="65.3" stroke="#111" stroke-width="1.5"/><line x1="494.1" y1="141" x2="494.1" y2="144" stroke="#333" stroke-width="0.8"/><text x="494.1" y="152.5" font-size="7" text-anchor="middle" fill="#222">Metastasis</text><text x="483.9" y="162" font-size="7" textLength="22.6" lengthAdjust="spacingAndGlyphs" fill="#222"><tspan font-style="italic">n</tspan> = 152</text><text transform="translate(388,80.6) rotate(-90)" font-size="7.3" text-anchor="middle" textLength="77.8" lengthAdjust="spacingAndGlyphs" fill="#111">CDH3 Expression (log<tspan font-size="5.2" dy="1.5">2</tspan><tspan dy="-1.5">)</tspan></text><text x="441.9" y="25.7" font-size="6" textLength="31.7" lengthAdjust="spacingAndGlyphs" fill="#333"><tspan font-style="italic">P</tspan> = 1.99E-56</text><line x1="432.7" y1="28" x2="484.2" y2="28" stroke="#333" stroke-width="0.8"/><text x="422.3" y="36.4" font-size="6" textLength="31.2" lengthAdjust="spacingAndGlyphs" fill="#333"><tspan font-style="italic">P</tspan> = 5.49E-66</text><line x1="427" y1="37.6" x2="454.4" y2="37.6" stroke="#333" stroke-width="0.8"/><text x="461.2" y="36.4" font-size="6" textLength="31.7" lengthAdjust="spacingAndGlyphs" fill="#333"><tspan font-style="italic">P</tspan> = 1.81E-05</text><line x1="462" y1="37.6" x2="492" y2="37.6" stroke="#333" stroke-width="0.8"/></g><g><line x1="39.2" y1="184.2" x2="192.6" y2="184.2" stroke="#777" stroke-width="1.1"/><line x1="192.6" y1="184.2" x2="192.6" y2="308.3" stroke="#666" stroke-width="1"/><line x1="39.2" y1="184.2" x2="39.2" y2="308.3" stroke="#666" stroke-width="1"/><line x1="39.2" y1="308.3" x2="192.6" y2="308.3" stroke="#333" stroke-width="1"/><line x1="37" y1="305.0" x2="39.2" y2="305.0" stroke="#555" stroke-width="0.8"/><text x="35.7" y="308.0" font-size="7" text-anchor="end" fill="#3a3a3a">0.0</text><line x1="37" y1="281.8" x2="39.2" y2="281.8" stroke="#555" stroke-width="0.8"/><text x="35.7" y="284.8" font-size="7" text-anchor="end" fill="#3a3a3a">0.2</text><line x1="37" y1="258.6" x2="39.2" y2="258.6" stroke="#555" stroke-width="0.8"/><text x="35.7" y="261.6" font-size="7" text-anchor="end" fill="#3a3a3a">0.4</text><line x1="37" y1="235.4" x2="39.2" y2="235.4" stroke="#555" stroke-width="0.8"/><text x="35.7" y="238.4" font-size="7" text-anchor="end" fill="#3a3a3a">0.6</text><line x1="37" y1="212.2" x2="39.2" y2="212.2" stroke="#555" stroke-width="0.8"/><text x="35.7" y="215.2" font-size="7" text-anchor="end" fill="#3a3a3a">0.8</text><line x1="37" y1="189.0" x2="39.2" y2="189.0" stroke="#555" stroke-width="0.8"/><text x="35.7" y="192.0" font-size="7" text-anchor="end" fill="#3a3a3a">1.0</text><line x1="39.2" y1="308.3" x2="39.2" y2="311" stroke="#555" stroke-width="0.8"/><text x="39.2" y="319.9" font-size="7.1" text-anchor="middle" fill="#333">0</text><line x1="69.8" y1="308.3" x2="69.8" y2="311" stroke="#555" stroke-width="0.8"/><text x="69.8" y="319.9" font-size="7.1" text-anchor="middle" fill="#333">20</text><line x1="100.4" y1="308.3" x2="100.4" y2="311" stroke="#555" stroke-width="0.8"/><text x="100.4" y="319.9" font-size="7.1" text-anchor="middle" fill="#333">40</text><line x1="131.0" y1="308.3" x2="131.0" y2="311" stroke="#555" stroke-width="0.8"/><text x="131.0" y="319.9" font-size="7.1" text-anchor="middle" fill="#333">60</text><line x1="161.6" y1="308.3" x2="161.6" y2="311" stroke="#555" stroke-width="0.8"/><text x="161.6" y="319.9" font-size="7.1" text-anchor="middle" fill="#333">80</text><text x="115.1" y="335" font-size="8" font-weight="bold" text-anchor="middle" textLength="85.6" lengthAdjust="spacingAndGlyphs" fill="#111">Months after diagnosis</text><text transform="translate(19.4,245.8) rotate(-90)" font-size="8" font-weight="bold" text-anchor="middle" textLength="60" lengthAdjust="spacingAndGlyphs" fill="#111">Overall survival</text><line x1="83.5" y1="184.5" x2="83.5" y2="322" stroke="#f0a060" stroke-width="0.8" stroke-dasharray="1.2,1.2"/><text x="81.8" y="314" font-size="5.8" fill="#f2a064">2-</text><text x="81.8" y="320" font-size="5.8" fill="#f2a064">years</text><polyline points="39.40,188.70 40.27,188.70 40.27,189.07 41.13,189.07 41.13,189.43 42.00,189.43 42.00,189.80 42.93,189.80 42.93,190.90 43.87,190.90 43.87,192.00 44.80,192.00 44.80,193.10 45.62,193.10 45.62,195.03 46.45,195.03 46.45,196.95 47.27,196.95 47.27,198.88 48.10,198.88 48.10,200.80 48.92,200.80 48.92,202.98 49.75,202.98 49.75,205.15 50.58,205.15 50.58,207.32 51.40,207.32 51.40,209.50 52.23,209.50 52.23,211.95 53.05,211.95 53.05,214.40 53.88,214.40 53.88,216.85 54.70,216.85 54.70,219.30 55.53,219.30 55.53,220.95 56.35,220.95 56.35,222.60 57.17,222.60 57.17,224.25 58.00,224.25 58.00,225.90 58.80,225.90 58.80,227.82 59.60,227.82 59.60,229.75 60.40,229.75 60.40,231.68 61.20,231.68 61.20,233.60 61.93,233.60 61.93,235.23 62.67,235.23 62.67,236.87 63.40,236.87 63.40,238.50 64.13,238.50 64.13,240.13 64.87,240.13 64.87,241.77 65.60,241.77 65.60,243.40 66.33,243.40 66.33,245.03 67.07,245.03 67.07,246.67 67.80,246.67 67.80,248.30 68.53,248.30 68.53,249.93 69.27,249.93 69.27,251.57 70.00,251.57 70.00,253.20 70.78,253.20 70.78,255.05 71.55,255.05 71.55,256.90 72.32,256.90 72.32,258.75 73.10,258.75 73.10,260.60 73.83,260.60 73.83,261.50 74.57,261.50 74.57,262.40 75.30,262.40 75.30,263.30 76.03,263.30 76.03,264.20 76.77,264.20 76.77,265.10 77.50,265.10 77.50,266.00 78.23,266.00 78.23,266.55 78.97,266.55 78.97,267.10 79.70,267.10 79.70,267.65 80.43,267.65 80.43,268.20 81.17,268.20 81.17,268.75 81.90,268.75 81.90,269.30 82.62,269.30 82.62,269.85 83.33,269.85 83.33,270.40 84.05,270.40 84.05,270.95 84.77,270.95 84.77,271.50 85.48,271.50 85.48,272.05 86.20,272.05 86.20,272.60 86.93,272.60 86.93,272.97 87.67,272.97 87.67,273.33 88.40,273.33 88.40,273.70 89.13,273.70 89.13,274.07 89.87,274.07 89.87,274.43 90.60,274.43 90.60,274.80 91.33,274.80 91.33,275.17 92.07,275.17 92.07,275.53 92.80,275.53 92.80,275.90 93.52,275.90 93.52,276.27 94.24,276.27 94.24,276.63 94.97,276.63 94.97,277.00 95.69,277.00 95.69,277.37 96.41,277.37 96.41,277.73 97.13,277.73 97.13,278.10 97.86,278.10 97.86,278.47 98.58,278.47 98.58,278.83 99.30,278.83 99.30,279.20 100.03,279.20 100.03,279.44 100.77,279.44 100.77,279.69 101.50,279.69 101.50,279.93 102.23,279.93 102.23,280.18 102.97,280.18 102.97,280.42 103.70,280.42 103.70,280.67 104.43,280.67 104.43,280.91 105.17,280.91 105.17,281.16 105.90,281.16 105.90,281.40 106.72,281.40 106.72,281.86 107.54,281.86 107.54,282.32 108.36,282.32 108.36,282.78 109.18,282.78 109.18,283.24 110.00,283.24 110.00,283.70 110.70,283.70 110.70,284.17 111.40,284.17 111.40,284.64 112.10,284.64 112.10,285.11 112.80,285.11 112.80,285.59 113.50,285.59 113.50,286.06 114.20,286.06 114.20,286.53 114.90,286.53 114.90,287.00 115.61,287.00 115.61,287.30 116.33,287.30 116.33,287.60 117.04,287.60 117.04,287.90 117.76,287.90 117.76,288.20 118.47,288.20 118.47,288.50 119.19,288.50 119.19,288.80 119.90,288.80 119.90,289.10 120.62,289.10 120.62,289.19 121.34,289.19 121.34,289.28 122.07,289.28 122.07,289.37 122.79,289.37 122.79,289.46 123.51,289.46 123.51,289.54 124.23,289.54 124.23,289.63 124.96,289.63 124.96,289.72 125.68,289.72 125.68,289.81 126.40,289.81 126.40,289.90 127.10,289.90 127.10,290.01 127.80,290.01 127.80,290.13 128.50,290.13 128.50,290.24 129.20,290.24 129.20,290.36 129.90,290.36 129.90,290.47 130.60,290.47 130.60,290.59 131.30,290.59 131.30,290.70 132.01,290.70 132.01,290.94 132.73,290.94 132.73,291.19 133.44,291.19 133.44,291.43 134.16,291.43 134.16,291.67 134.87,291.67 134.87,291.91 135.59,291.91 135.59,292.16 136.30,292.16 136.30,292.40 137.02,292.40 137.02,292.52 137.74,292.52 137.74,292.64 138.47,292.64 138.47,292.77 139.19,292.77 139.19,292.89 139.91,292.89 139.91,293.01 140.63,293.01 140.63,293.13 141.36,293.13 141.36,293.26 142.08,293.26 142.08,293.38 142.80,293.38 142.80,293.50 143.53,293.50 143.53,293.63 144.27,293.63 144.27,293.77 145.00,293.77 145.00,293.90 145.73,293.90 145.73,294.03 146.47,294.03 146.47,294.17 147.20,294.17 147.20,294.30 147.93,294.30 147.93,294.43 148.67,294.43 148.67,294.57 149.40,294.57 149.40,294.70 150.12,294.70 150.12,294.72 150.85,294.72 150.85,294.74 151.57,294.74 151.57,294.76 152.30,294.76 152.30,294.78 153.02,294.78 153.02,294.80 153.74,294.80 153.74,294.82 154.47,294.82 154.47,294.84 155.19,294.84 155.19,294.86 155.92,294.86 155.92,294.88 156.64,294.88 156.64,294.90 157.36,294.90 157.36,294.92 158.09,294.92 158.09,294.94 158.81,294.94 158.81,294.96 159.54,294.96 159.54,294.98 160.26,294.98 160.26,295.00 160.98,295.00 160.98,295.02 161.71,295.02 161.71,295.04 162.43,295.04 162.43,295.06 163.16,295.06 163.16,295.08 163.88,295.08 163.88,295.10 164.60,295.10 164.60,295.12 165.33,295.12 165.33,295.14 166.05,295.14 166.05,295.16 166.78,295.16 166.78,295.18 167.50,295.18 167.50,295.20 168.33,295.20 168.33,295.57 169.17,295.57 169.17,295.93 170.00,295.93 170.00,296.30 186.40,296.30" fill="none" stroke="#d41f30" stroke-width="1.7" stroke-linejoin="miter"/><polyline points="39.40,188.70 44.80,188.70 45.90,188.70 45.90,189.60 47.00,189.60 47.00,190.50 48.60,190.50 48.60,193.60 50.30,193.60 50.30,197.00 51.40,197.00 51.40,198.90 52.50,198.90 52.50,200.80 53.80,200.80 53.80,202.65 55.10,202.65 55.10,204.50 56.90,204.50 56.90,208.00 58.20,208.00 58.20,209.50 59.50,209.50 59.50,211.00 60.90,211.00 60.90,213.00 62.30,213.00 62.30,215.00 63.75,215.00 63.75,216.95 65.20,216.95 65.20,218.90 67.30,218.90 67.30,222.60 68.40,222.60 68.40,224.25 69.50,224.25 69.50,225.90 71.10,225.90 71.10,229.80 72.20,229.80 72.20,232.00 73.30,232.00 73.30,234.20 74.70,234.20 74.70,236.40 76.10,236.40 76.10,238.60 77.40,238.60 77.40,239.90 78.70,239.90 78.70,241.20 80.35,241.20 80.35,241.75 82.00,241.75 82.00,242.30 83.40,242.30 83.40,243.40 84.80,243.40 84.80,244.50 86.15,244.50 86.15,245.60 87.50,245.60 87.50,246.70 89.10,246.70 89.10,248.30 90.70,248.30 90.70,249.90 92.17,249.90 92.17,250.63 93.63,250.63 93.63,251.37 95.10,251.37 95.10,252.10 96.20,252.10 96.20,252.46 97.30,252.46 97.30,252.82 98.40,252.82 98.40,253.18 99.50,253.18 99.50,253.54 100.60,253.54 100.60,253.90 101.90,253.90 101.90,254.34 103.20,254.34 103.20,254.78 104.50,254.78 104.50,255.22 105.80,255.22 105.80,255.66 107.10,255.66 107.10,256.10 108.55,256.10 108.55,256.65 110.00,256.65 110.00,257.20 111.65,257.20 111.65,257.70 113.30,257.70 113.30,258.20 114.50,258.20 114.50,259.45 115.70,259.45 115.70,260.70 117.40,260.70 117.40,265.60 119.00,265.60 119.00,268.00 120.65,268.00 120.65,269.00 122.30,269.00 122.30,270.00 141.20,270.00 142.00,270.00 142.00,273.80 143.23,273.80 143.23,273.93 144.47,273.93 144.47,274.07 145.70,274.07 145.70,274.20 146.93,274.20 146.93,274.33 148.17,274.33 148.17,274.47 149.40,274.47 149.40,274.60 149.70,278.20 185.50,278.20 186.40,278.20 186.40,284.80" fill="none" stroke="#111" stroke-width="1.9" stroke-linejoin="miter"/><text x="164.9" y="194.9" font-size="6.4" fill="#333"><tspan font-style="italic">N</tspan> = 755</text><text x="102.7" y="222.5" font-size="7" fill="#111"><tspan font-style="italic">CDH3</tspan><tspan font-size="5" dy="-2.6">down</tspan></text><text x="102.9" y="231.3" font-size="7.2" fill="#111"><tspan font-style="italic">n</tspan> = 130</text><text x="86.2" y="241.6" font-size="6.6" fill="#111">56%</text><text x="86.1" y="267.9" font-size="6.8" fill="#d83040">35%</text><text x="48.9" y="276.6" font-size="7" fill="#c8283a" stroke="#c8283a" stroke-width="0.25"><tspan font-style="italic">CDH3</tspan><tspan font-size="5" dy="-2.6">up</tspan></text><text x="48.9" y="284.7" font-size="7.2" fill="#c8283a" stroke="#c8283a" stroke-width="0.25" textLength="25.6" lengthAdjust="spacingAndGlyphs"><tspan font-style="italic">n</tspan> = 625</text><text x="44" y="302.5" font-size="7.3" font-weight="bold" fill="#111" textLength="83.3" lengthAdjust="spacingAndGlyphs">Log-rank, <tspan font-style="italic">P</tspan> = 2.73E-06</text></g><g><text x="378" y="180.3" font-size="8.5" font-weight="bold" font-style="italic" text-anchor="middle" textLength="71" lengthAdjust="spacingAndGlyphs" fill="#111">ABCC1/SLC46A3</text><text x="441.5" y="197" font-size="7" fill="#222" textLength="68.3" lengthAdjust="spacingAndGlyphs">ANOVA, <tspan font-style="italic">P</tspan> &lt; 2.0E-255</text><line x1="228.5" y1="289.0" x2="231.3" y2="289.0" stroke="#555" stroke-width="0.8"/><text x="224.6" y="291.4" font-size="6.8" text-anchor="end" fill="#333">-2</text><line x1="228.5" y1="262.1" x2="231.3" y2="262.1" stroke="#555" stroke-width="0.8"/><text x="224.6" y="264.5" font-size="6.8" text-anchor="end" fill="#333">0</text><line x1="228.5" y1="235.2" x2="231.3" y2="235.2" stroke="#555" stroke-width="0.8"/><text x="224.6" y="237.6" font-size="6.8" text-anchor="end" fill="#333">2</text><line x1="228.5" y1="208.3" x2="231.3" y2="208.3" stroke="#555" stroke-width="0.8"/><text x="224.6" y="210.7" font-size="6.8" text-anchor="end" fill="#333">4</text><text transform="translate(211.3,248.8) rotate(-90)" font-size="7.8" font-weight="bold" text-anchor="middle" textLength="82.8" lengthAdjust="spacingAndGlyphs" fill="#111">Expression (log<tspan font-size="5" dy="1.5">2</tspan><tspan dy="-1.5"> ratio)</tspan></text><line x1="231.3" y1="242.4" x2="516.4" y2="242.4" stroke="#e67a7a" stroke-width="0.9" stroke-dasharray="2.2,1.6"/><line x1="231.3" y1="269.4" x2="516.4" y2="269.4" stroke="#7fbf7f" stroke-width="0.9" stroke-dasharray="2.2,1.6"/><line x1="231.3" y1="255.7" x2="516.4" y2="255.7" stroke="#444" stroke-width="1.1"/><line x1="241.20" y1="193.5" x2="241.20" y2="222" stroke="#e03a3a" stroke-width="0.8" stroke-dasharray="2,1.6"/><line x1="241.20" y1="241.7" x2="241.20" y2="265.6" stroke="#e03a3a" stroke-width="0.8" stroke-dasharray="2,1.6"/><line x1="238.20" y1="193.5" x2="244.20" y2="193.5" stroke="#e03a3a" stroke-width="0.9"/><line x1="238.20" y1="265.6" x2="244.20" y2="265.6" stroke="#e03a3a" stroke-width="0.9"/><rect x="235.30" y="222" width="11.8" height="19.7" fill="none" stroke="#e03a3a" stroke-width="0.9"/><line x1="235.30" y1="232" x2="247.10" y2="232" stroke="#e03a3a" stroke-width="1.8"/><line x1="241.20" y1="308.3" x2="241.20" y2="313.5" stroke="#555" stroke-width="0.9"/><text transform="translate(243.70,321.9) rotate(-38)" font-size="7.8" text-anchor="end" fill="#e84040">Head &amp; neck</text><line x1="255.85" y1="202.3" x2="255.85" y2="232" stroke="#222" stroke-width="0.8" stroke-dasharray="2,1.6"/><line x1="255.85" y1="253.3" x2="255.85" y2="281.1" stroke="#222" stroke-width="0.8" stroke-dasharray="2,1.6"/><line x1="252.85" y1="202.3" x2="258.85" y2="202.3" stroke="#222" stroke-width="0.9"/><line x1="252.85" y1="281.1" x2="258.85" y2="281.1" stroke="#222" stroke-width="0.9"/><rect x="249.95" y="232" width="11.8" height="21.3" fill="none" stroke="#222" stroke-width="0.9"/><line x1="249.95" y1="244" x2="261.75" y2="244" stroke="#222" stroke-width="1.8"/><line x1="255.85" y1="308.3" x2="255.85" y2="313.5" stroke="#555" stroke-width="0.9"/><text transform="translate(258.35,321.9) rotate(-38)" font-size="7.8" text-anchor="end" fill="#222">Cervix uteri</text><line x1="270.50" y1="215.6" x2="270.50" y2="235.9" stroke="#222" stroke-width="0.8" stroke-dasharray="2,1.6"/><line x1="270.50" y1="251" x2="270.50" y2="270.7" stroke="#222" stroke-width="0.8" stroke-dasharray="2,1.6"/><line x1="267.50" y1="215.6" x2="273.50" y2="215.6" stroke="#222" stroke-width="0.9"/><line x1="267.50" y1="270.7" x2="273.50" y2="270.7" stroke="#222" stroke-width="0.9"/><rect x="264.60" y="235.9" width="11.8" height="15.1" fill="none" stroke="#222" stroke-width="0.9"/><line x1="264.60" y1="244" x2="276.40" y2="244" stroke="#222" stroke-width="1.8"/><line x1="270.50" y1="308.3" x2="270.50" y2="313.5" stroke="#555" stroke-width="0.9"/><text transform="translate(273.00,321.9) rotate(-38)" font-size="7.8" text-anchor="end" fill="#222">Prostate</text><line x1="285.15" y1="211.9" x2="285.15" y2="234.7" stroke="#222" stroke-width="0.8" stroke-dasharray="2,1.6"/><line x1="285.15" y1="252.1" x2="285.15" y2="273" stroke="#222" stroke-width="0.8" stroke-dasharray="2,1.6"/><line x1="282.15" y1="211.9" x2="288.15" y2="211.9" stroke="#222" stroke-width="0.9"/><line x1="282.15" y1="273" x2="288.15" y2="273" stroke="#222" stroke-width="0.9"/><rect x="279.25" y="234.7" width="11.8" height="17.4" fill="none" stroke="#222" stroke-width="0.9"/><line x1="279.25" y1="244.5" x2="291.05" y2="244.5" stroke="#222" stroke-width="1.8"/><line x1="285.15" y1="308.3" x2="285.15" y2="313.5" stroke="#555" stroke-width="0.9"/><text transform="translate(287.65,321.9) rotate(-38)" font-size="7.8" text-anchor="end" fill="#222">Uterus</text><line x1="299.80" y1="188.9" x2="299.80" y2="227.6" stroke="#e03a3a" stroke-width="0.8" stroke-dasharray="2,1.6"/><line x1="299.80" y1="264.5" x2="299.80" y2="293.2" stroke="#e03a3a" stroke-width="0.8" stroke-dasharray="2,1.6"/><line x1="296.80" y1="188.9" x2="302.80" y2="188.9" stroke="#e03a3a" stroke-width="0.9"/><line x1="296.80" y1="293.2" x2="302.80" y2="293.2" stroke="#e03a3a" stroke-width="0.9"/><rect x="293.90" y="227.6" width="11.8" height="36.9" fill="none" stroke="#e03a3a" stroke-width="0.9"/><line x1="293.90" y1="249.2" x2="305.70" y2="249.2" stroke="#e03a3a" stroke-width="1.8"/><line x1="299.80" y1="308.3" x2="299.80" y2="313.5" stroke="#555" stroke-width="0.9"/><text transform="translate(302.30,321.9) rotate(-38)" font-size="7.8" text-anchor="end" fill="#e84040">Esophagus</text><line x1="314.45" y1="192.1" x2="314.45" y2="234.7" stroke="#222" stroke-width="0.8" stroke-dasharray="2,1.6"/><line x1="314.45" y1="264.5" x2="314.45" y2="304" stroke="#222" stroke-width="0.8" stroke-dasharray="2,1.6"/><line x1="311.45" y1="192.1" x2="317.45" y2="192.1" stroke="#222" stroke-width="0.9"/><line x1="311.45" y1="304" x2="317.45" y2="304" stroke="#222" stroke-width="0.9"/><rect x="308.55" y="234.7" width="11.8" height="29.8" fill="none" stroke="#222" stroke-width="0.9"/><line x1="308.55" y1="252" x2="320.35" y2="252" stroke="#222" stroke-width="1.8"/><line x1="314.45" y1="308.3" x2="314.45" y2="313.5" stroke="#555" stroke-width="0.9"/><text transform="translate(316.95,321.9) rotate(-38)" font-size="7.8" text-anchor="end" fill="#222">Lung</text><line x1="329.10" y1="227.6" x2="329.10" y2="243.1" stroke="#222" stroke-width="0.8" stroke-dasharray="2,1.6"/><line x1="329.10" y1="257.8" x2="329.10" y2="278.2" stroke="#222" stroke-width="0.8" stroke-dasharray="2,1.6"/><line x1="326.10" y1="227.6" x2="332.10" y2="227.6" stroke="#222" stroke-width="0.9"/><line x1="326.10" y1="278.2" x2="332.10" y2="278.2" stroke="#222" stroke-width="0.9"/><rect x="323.20" y="243.1" width="11.8" height="14.7" fill="none" stroke="#222" stroke-width="0.9"/><line x1="323.20" y1="248.6" x2="335.00" y2="248.6" stroke="#222" stroke-width="1.8"/><line x1="329.10" y1="308.3" x2="329.10" y2="313.5" stroke="#555" stroke-width="0.9"/><text transform="translate(331.60,321.9) rotate(-38)" font-size="7.8" text-anchor="end" fill="#222">Skin</text><line x1="343.75" y1="208.4" x2="343.75" y2="239.5" stroke="#222" stroke-width="0.8" stroke-dasharray="2,1.6"/><line x1="343.75" y1="261.8" x2="343.75" y2="282.4" stroke="#222" stroke-width="0.8" stroke-dasharray="2,1.6"/><line x1="340.75" y1="208.4" x2="346.75" y2="208.4" stroke="#222" stroke-width="0.9"/><line x1="340.75" y1="282.4" x2="346.75" y2="282.4" stroke="#222" stroke-width="0.9"/><rect x="337.85" y="239.5" width="11.8" height="22.3" fill="none" stroke="#222" stroke-width="0.9"/><line x1="337.85" y1="252.2" x2="349.65" y2="252.2" stroke="#222" stroke-width="1.8"/><line x1="343.75" y1="308.3" x2="343.75" y2="313.5" stroke="#555" stroke-width="0.9"/><text transform="translate(346.25,321.9) rotate(-38)" font-size="7.8" text-anchor="end" fill="#222">Bladder</text><line x1="358.40" y1="222.1" x2="358.40" y2="246.9" stroke="#222" stroke-width="0.8" stroke-dasharray="2,1.6"/><line x1="358.40" y1="262.7" x2="358.40" y2="287.3" stroke="#222" stroke-width="0.8" stroke-dasharray="2,1.6"/><line x1="355.40" y1="222.1" x2="361.40" y2="222.1" stroke="#222" stroke-width="0.9"/><line x1="355.40" y1="287.3" x2="361.40" y2="287.3" stroke="#222" stroke-width="0.9"/><rect x="352.50" y="246.9" width="11.8" height="15.8" fill="none" stroke="#222" stroke-width="0.9"/><line x1="352.50" y1="255.5" x2="364.30" y2="255.5" stroke="#222" stroke-width="1.8"/><line x1="358.40" y1="308.3" x2="358.40" y2="313.5" stroke="#555" stroke-width="0.9"/><text transform="translate(360.90,321.9) rotate(-38)" font-size="7.8" text-anchor="end" fill="#222">Ovary</text><line x1="373.05" y1="232.9" x2="373.05" y2="247.7" stroke="#222" stroke-width="0.8" stroke-dasharray="2,1.6"/><line x1="373.05" y1="265.7" x2="373.05" y2="280.1" stroke="#222" stroke-width="0.8" stroke-dasharray="2,1.6"/><line x1="370.05" y1="232.9" x2="376.05" y2="232.9" stroke="#222" stroke-width="0.9"/><line x1="370.05" y1="280.1" x2="376.05" y2="280.1" stroke="#222" stroke-width="0.9"/><rect x="367.15" y="247.7" width="11.8" height="18.0" fill="none" stroke="#222" stroke-width="0.9"/><line x1="367.15" y1="255.5" x2="378.95" y2="255.5" stroke="#222" stroke-width="1.8"/><line x1="373.05" y1="308.3" x2="373.05" y2="313.5" stroke="#555" stroke-width="0.9"/><text transform="translate(375.55,321.9) rotate(-38)" font-size="7.8" text-anchor="end" fill="#222">Cholangiocarcinoma</text><line x1="387.70" y1="246.7" x2="387.70" y2="255.5" stroke="#222" stroke-width="0.8" stroke-dasharray="2,1.6"/><line x1="387.70" y1="262.3" x2="387.70" y2="270.2" stroke="#222" stroke-width="0.8" stroke-dasharray="2,1.6"/><line x1="384.70" y1="246.7" x2="390.70" y2="246.7" stroke="#222" stroke-width="0.9"/><line x1="384.70" y1="270.2" x2="390.70" y2="270.2" stroke="#222" stroke-width="0.9"/><rect x="381.80" y="255.5" width="11.8" height="6.8" fill="none" stroke="#222" stroke-width="0.9"/><line x1="381.80" y1="259.6" x2="393.60" y2="259.6" stroke="#222" stroke-width="1.8"/><line x1="387.70" y1="308.3" x2="387.70" y2="313.5" stroke="#555" stroke-width="0.9"/><text transform="translate(390.20,321.9) rotate(-38)" font-size="7.8" text-anchor="end" fill="#222">Thymus</text><line x1="402.35" y1="231.1" x2="402.35" y2="254.5" stroke="#222" stroke-width="0.8" stroke-dasharray="2,1.6"/><line x1="402.35" y1="269.5" x2="402.35" y2="293.2" stroke="#222" stroke-width="0.8" stroke-dasharray="2,1.6"/><line x1="399.35" y1="231.1" x2="405.35" y2="231.1" stroke="#222" stroke-width="0.9"/><line x1="399.35" y1="293.2" x2="405.35" y2="293.2" stroke="#222" stroke-width="0.9"/><rect x="396.45" y="254.5" width="11.8" height="15.0" fill="none" stroke="#222" stroke-width="0.9"/><line x1="396.45" y1="262" x2="408.25" y2="262" stroke="#222" stroke-width="1.8"/><line x1="402.35" y1="308.3" x2="402.35" y2="313.5" stroke="#555" stroke-width="0.9"/><text transform="translate(404.85,321.9) rotate(-38)" font-size="7.8" text-anchor="end" fill="#222">Stomach</text><line x1="417.00" y1="233.2" x2="417.00" y2="255.8" stroke="#222" stroke-width="0.8" stroke-dasharray="2,1.6"/><line x1="417.00" y1="272.1" x2="417.00" y2="293" stroke="#222" stroke-width="0.8" stroke-dasharray="2,1.6"/><line x1="414.00" y1="233.2" x2="420.00" y2="233.2" stroke="#222" stroke-width="0.9"/><line x1="414.00" y1="293" x2="420.00" y2="293" stroke="#222" stroke-width="0.9"/><rect x="411.10" y="255.8" width="11.8" height="16.3" fill="none" stroke="#222" stroke-width="0.9"/><line x1="411.10" y1="263.8" x2="422.90" y2="263.8" stroke="#222" stroke-width="1.8"/><line x1="417.00" y1="308.3" x2="417.00" y2="313.5" stroke="#555" stroke-width="0.9"/><text transform="translate(419.50,321.9) rotate(-38)" font-size="7.8" text-anchor="end" fill="#222">Colon</text><line x1="431.65" y1="235.8" x2="431.65" y2="257.9" stroke="#222" stroke-width="0.8" stroke-dasharray="2,1.6"/><line x1="431.65" y1="272.1" x2="431.65" y2="294.2" stroke="#222" stroke-width="0.8" stroke-dasharray="2,1.6"/><line x1="428.65" y1="235.8" x2="434.65" y2="235.8" stroke="#222" stroke-width="0.9"/><line x1="428.65" y1="294.2" x2="434.65" y2="294.2" stroke="#222" stroke-width="0.9"/><rect x="425.75" y="257.9" width="11.8" height="14.2" fill="none" stroke="#222" stroke-width="0.9"/><line x1="425.75" y1="265.6" x2="437.55" y2="265.6" stroke="#222" stroke-width="1.8"/><line x1="431.65" y1="308.3" x2="431.65" y2="313.5" stroke="#555" stroke-width="0.9"/><text transform="translate(434.15,321.9) rotate(-38)" font-size="7.8" text-anchor="end" fill="#222">Breast</text><line x1="446.30" y1="235" x2="446.30" y2="257.9" stroke="#222" stroke-width="0.8" stroke-dasharray="2,1.6"/><line x1="446.30" y1="274.2" x2="446.30" y2="286.4" stroke="#222" stroke-width="0.8" stroke-dasharray="2,1.6"/><line x1="443.30" y1="235" x2="449.30" y2="235" stroke="#222" stroke-width="0.9"/><line x1="443.30" y1="286.4" x2="449.30" y2="286.4" stroke="#222" stroke-width="0.9"/><rect x="440.40" y="257.9" width="11.8" height="16.3" fill="none" stroke="#222" stroke-width="0.9"/><line x1="440.40" y1="266.4" x2="452.20" y2="266.4" stroke="#222" stroke-width="1.8"/><line x1="446.30" y1="308.3" x2="446.30" y2="313.5" stroke="#555" stroke-width="0.9"/><text transform="translate(448.80,321.9) rotate(-38)" font-size="7.8" text-anchor="end" fill="#222">Rectum</text><line x1="460.95" y1="244.9" x2="460.95" y2="260.5" stroke="#222" stroke-width="0.8" stroke-dasharray="2,1.6"/><line x1="460.95" y1="271.6" x2="460.95" y2="287.2" stroke="#222" stroke-width="0.8" stroke-dasharray="2,1.6"/><line x1="457.95" y1="244.9" x2="463.95" y2="244.9" stroke="#222" stroke-width="0.9"/><line x1="457.95" y1="287.2" x2="463.95" y2="287.2" stroke="#222" stroke-width="0.9"/><rect x="455.05" y="260.5" width="11.8" height="11.1" fill="none" stroke="#222" stroke-width="0.9"/><line x1="455.05" y1="266.4" x2="466.85" y2="266.4" stroke="#222" stroke-width="1.8"/><line x1="460.95" y1="308.3" x2="460.95" y2="313.5" stroke="#555" stroke-width="0.9"/><text transform="translate(463.45,321.9) rotate(-38)" font-size="7.8" text-anchor="end" fill="#222">Thyroid</text><line x1="475.60" y1="235.8" x2="475.60" y2="263" stroke="#222" stroke-width="0.8" stroke-dasharray="2,1.6"/><line x1="475.60" y1="278.6" x2="475.60" y2="303.3" stroke="#222" stroke-width="0.8" stroke-dasharray="2,1.6"/><line x1="472.60" y1="235.8" x2="478.60" y2="235.8" stroke="#222" stroke-width="0.9"/><line x1="472.60" y1="303.3" x2="478.60" y2="303.3" stroke="#222" stroke-width="0.9"/><rect x="469.70" y="263" width="11.8" height="15.6" fill="none" stroke="#222" stroke-width="0.9"/><line x1="469.70" y1="271.6" x2="481.50" y2="271.6" stroke="#222" stroke-width="1.8"/><line x1="475.60" y1="308.3" x2="475.60" y2="313.5" stroke="#555" stroke-width="0.9"/><text transform="translate(478.10,321.9) rotate(-38)" font-size="7.8" text-anchor="end" fill="#222">Kidney</text><line x1="490.25" y1="246.7" x2="490.25" y2="264.9" stroke="#222" stroke-width="0.8" stroke-dasharray="2,1.6"/><line x1="490.25" y1="277.3" x2="490.25" y2="295.5" stroke="#222" stroke-width="0.8" stroke-dasharray="2,1.6"/><line x1="487.25" y1="246.7" x2="493.25" y2="246.7" stroke="#222" stroke-width="0.9"/><line x1="487.25" y1="295.5" x2="493.25" y2="295.5" stroke="#222" stroke-width="0.9"/><rect x="484.35" y="264.9" width="11.8" height="12.4" fill="none" stroke="#222" stroke-width="0.9"/><line x1="484.35" y1="270.8" x2="496.15" y2="270.8" stroke="#222" stroke-width="1.8"/><line x1="490.25" y1="308.3" x2="490.25" y2="313.5" stroke="#555" stroke-width="0.9"/><text transform="translate(492.75,321.9) rotate(-38)" font-size="7.8" text-anchor="end" fill="#222">Adrenal gland</text><line x1="504.90" y1="250.8" x2="504.90" y2="265.6" stroke="#e03a3a" stroke-width="0.8" stroke-dasharray="2,1.6"/><line x1="504.90" y1="276" x2="504.90" y2="289" stroke="#e03a3a" stroke-width="0.8" stroke-dasharray="2,1.6"/><line x1="501.90" y1="250.8" x2="507.90" y2="250.8" stroke="#e03a3a" stroke-width="0.9"/><line x1="501.90" y1="289" x2="507.90" y2="289" stroke="#e03a3a" stroke-width="0.9"/><rect x="499.00" y="265.6" width="11.8" height="10.4" fill="none" stroke="#e03a3a" stroke-width="0.9"/><line x1="499.00" y1="270.8" x2="510.80" y2="270.8" stroke="#e03a3a" stroke-width="1.8"/><line x1="504.90" y1="308.3" x2="504.90" y2="313.5" stroke="#555" stroke-width="0.9"/><text transform="translate(507.40,321.9) rotate(-38)" font-size="7.8" text-anchor="end" fill="#e84040">Pancreas</text><rect x="231.3" y="183.8" width="285.1" height="124.5" fill="none" stroke="#777" stroke-width="1.2"/></g><text x="2.1" y="9.3" font-size="12.2" font-weight="bold" fill="#111">A</text><text x="375.1" y="9.2" font-size="12" font-weight="bold" fill="#111">B</text><text x="1.4" y="185.3" font-size="13" font-weight="bold" fill="#111">C</text><text x="206.2" y="185.2" font-size="12.4" font-weight="bold" fill="#111">D</text>
</svg></body></html>
